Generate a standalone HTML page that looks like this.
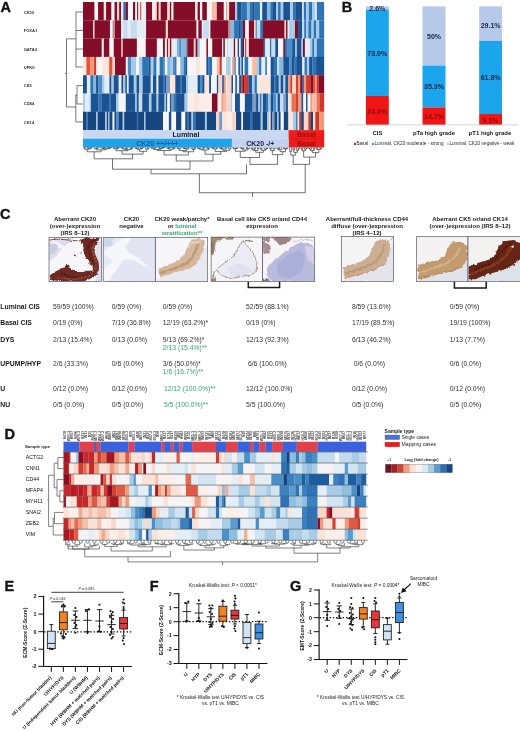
<!DOCTYPE html>
<html lang="en"><head><meta charset="utf-8"><title>Figure</title>
<style>
html,body{margin:0;padding:0;background:#fff;}
body{width:520px;height:731px;overflow:hidden;}
svg{display:block;font-family:"Liberation Sans",sans-serif;}
</style></head><body>
<svg width="520" height="731" viewBox="0 0 520 731">
<defs>
<filter id="b03" x="-2%" y="-2%" width="104%" height="104%"><feGaussianBlur stdDeviation="0.3"/></filter>
<filter id="b05" x="-2%" y="-2%" width="104%" height="104%"><feGaussianBlur stdDeviation="0.5 0.25"/></filter>
<filter id="b08" x="-5%" y="-5%" width="110%" height="110%"><feTurbulence type="fractalNoise" baseFrequency="0.3" numOctaves="2" seed="4" result="n"/><feDisplacementMap in="SourceGraphic" in2="n" scale="3" xChannelSelector="R" yChannelSelector="G" result="d"/><feGaussianBlur in="d" stdDeviation="0.5"/></filter>
</defs>
<rect width="520" height="731" fill="#fff"/>
<g filter="url(#b03)">
<g>
<rect x="83" y="2" width="11.69" height="18.4" fill="#840d2a"/>
<rect x="94.54" y="2" width="3.69" height="18.4" fill="#f7f5f6"/>
<rect x="98.08" y="2" width="5.84" height="18.4" fill="#840d2a"/>
<rect x="103.77" y="2" width="2.46" height="18.4" fill="#fce6dc"/>
<rect x="106.08" y="2" width="5.53" height="18.4" fill="#840d2a"/>
<rect x="111.46" y="2" width="3.23" height="18.4" fill="#f7f5f6"/>
<rect x="114.54" y="2" width="2.77" height="18.4" fill="#840d2a"/>
<rect x="117.15" y="2" width="2.15" height="18.4" fill="#fad6c8"/>
<rect x="119.15" y="2" width="2.15" height="18.4" fill="#840d2a"/>
<rect x="121.15" y="2" width="2.3" height="18.4" fill="#e2edf6"/>
<rect x="123.31" y="2" width="2.61" height="18.4" fill="#2f74b6"/>
<rect x="125.77" y="2" width="2.3" height="18.4" fill="#840d2a"/>
<rect x="127.92" y="2" width="5.23" height="18.4" fill="#f7f5f6"/>
<rect x="133" y="2" width="2.46" height="18.4" fill="#840d2a"/>
<rect x="135.31" y="2" width="2" height="18.4" fill="#f7f5f6"/>
<rect x="137.15" y="2" width="1.38" height="18.4" fill="#840d2a"/>
<rect x="138.38" y="2" width="2" height="18.4" fill="#f7f5f6"/>
<rect x="140.23" y="2" width="1.38" height="18.4" fill="#cf382c"/>
<rect x="141.46" y="2" width="2" height="18.4" fill="#f7f5f6"/>
<rect x="143.31" y="2" width="2.92" height="18.4" fill="#e2edf6"/>
<rect x="146.08" y="2" width="6.3" height="18.4" fill="#840d2a"/>
<rect x="152.23" y="2" width="2.46" height="18.4" fill="#f7f5f6"/>
<rect x="154.54" y="2" width="2.46" height="18.4" fill="#fad6c8"/>
<rect x="156.85" y="2" width="2" height="18.4" fill="#840d2a"/>
<rect x="158.69" y="2" width="2.15" height="18.4" fill="#fad6c8"/>
<rect x="160.69" y="2" width="2.46" height="18.4" fill="#840d2a"/>
<rect x="83" y="20.3" width="10.15" height="18.4" fill="#840d2a"/>
<rect x="93" y="20.3" width="1.69" height="18.4" fill="#fad6c8"/>
<rect x="94.54" y="20.3" width="15.53" height="18.4" fill="#840d2a"/>
<rect x="109.92" y="20.3" width="2.77" height="18.4" fill="#f7f5f6"/>
<rect x="112.54" y="20.3" width="2.61" height="18.4" fill="#c08a94"/>
<rect x="115" y="20.3" width="6.3" height="18.4" fill="#840d2a"/>
<rect x="121.15" y="20.3" width="2.3" height="18.4" fill="#e2edf6"/>
<rect x="123.31" y="20.3" width="4.46" height="18.4" fill="#c6ddef"/>
<rect x="127.62" y="20.3" width="3.23" height="18.4" fill="#e2edf6"/>
<rect x="130.69" y="20.3" width="6.3" height="18.4" fill="#c6ddef"/>
<rect x="136.85" y="20.3" width="9.38" height="18.4" fill="#e2edf6"/>
<rect x="146.08" y="20.3" width="17.07" height="18.4" fill="#840d2a"/>
<rect x="83" y="38.6" width="18.92" height="18.4" fill="#840d2a"/>
<rect x="101.77" y="38.6" width="2.15" height="18.4" fill="#f7f5f6"/>
<rect x="103.77" y="38.6" width="5.84" height="18.4" fill="#840d2a"/>
<rect x="109.46" y="38.6" width="4.46" height="18.4" fill="#f7f5f6"/>
<rect x="113.77" y="38.6" width="7.84" height="18.4" fill="#840d2a"/>
<rect x="121.46" y="38.6" width="1.38" height="18.4" fill="#fad6c8"/>
<rect x="122.69" y="38.6" width="14.3" height="18.4" fill="#840d2a"/>
<rect x="136.85" y="38.6" width="9.07" height="18.4" fill="#f7f5f6"/>
<rect x="145.77" y="38.6" width="11.23" height="18.4" fill="#840d2a"/>
<rect x="156.85" y="38.6" width="6.3" height="18.4" fill="#f7f5f6"/>
<rect x="83" y="56.9" width="3.53" height="18.4" fill="#fce6dc"/>
<rect x="86.38" y="56.9" width="4.15" height="18.4" fill="#e3523a"/>
<rect x="90.38" y="56.9" width="3.84" height="18.4" fill="#f09a7c"/>
<rect x="94.08" y="56.9" width="2.15" height="18.4" fill="#cf382c"/>
<rect x="96.08" y="56.9" width="2" height="18.4" fill="#fce6dc"/>
<rect x="97.92" y="56.9" width="4.46" height="18.4" fill="#f7f5f6"/>
<rect x="102.23" y="56.9" width="7.07" height="18.4" fill="#fce6dc"/>
<rect x="109.15" y="56.9" width="3.53" height="18.4" fill="#e3523a"/>
<rect x="112.54" y="56.9" width="2.61" height="18.4" fill="#fad6c8"/>
<rect x="115" y="56.9" width="10.92" height="18.4" fill="#840d2a"/>
<rect x="125.77" y="56.9" width="2.3" height="18.4" fill="#e2edf6"/>
<rect x="127.92" y="56.9" width="3.23" height="18.4" fill="#4a8ec8"/>
<rect x="131" y="56.9" width="2.92" height="18.4" fill="#a6cbe6"/>
<rect x="133.77" y="56.9" width="2.46" height="18.4" fill="#a6cbe6"/>
<rect x="136.08" y="56.9" width="3.23" height="18.4" fill="#f7f5f6"/>
<rect x="139.15" y="56.9" width="3.23" height="18.4" fill="#a6cbe6"/>
<rect x="142.23" y="56.9" width="6.3" height="18.4" fill="#2f74b6"/>
<rect x="148.38" y="56.9" width="2.46" height="18.4" fill="#1c5192"/>
<rect x="150.69" y="56.9" width="2.92" height="18.4" fill="#a6cbe6"/>
<rect x="153.46" y="56.9" width="3.23" height="18.4" fill="#2f74b6"/>
<rect x="156.54" y="56.9" width="3.23" height="18.4" fill="#e2edf6"/>
<rect x="159.62" y="56.9" width="3.53" height="18.4" fill="#2f74b6"/>
<rect x="83" y="75.2" width="4" height="18.4" fill="#1c5192"/>
<rect x="86.85" y="75.2" width="3.69" height="18.4" fill="#e2edf6"/>
<rect x="90.38" y="75.2" width="3.23" height="18.4" fill="#2f74b6"/>
<rect x="93.46" y="75.2" width="2.77" height="18.4" fill="#86b8de"/>
<rect x="96.08" y="75.2" width="2.46" height="18.4" fill="#1c5192"/>
<rect x="98.38" y="75.2" width="4" height="18.4" fill="#4a8ec8"/>
<rect x="102.23" y="75.2" width="2.46" height="18.4" fill="#a6cbe6"/>
<rect x="104.54" y="75.2" width="5.07" height="18.4" fill="#e2edf6"/>
<rect x="109.46" y="75.2" width="2.15" height="18.4" fill="#1c5192"/>
<rect x="111.46" y="75.2" width="2.46" height="18.4" fill="#a6cbe6"/>
<rect x="113.77" y="75.2" width="5.07" height="18.4" fill="#1c5192"/>
<rect x="118.69" y="75.2" width="2.92" height="18.4" fill="#e2edf6"/>
<rect x="121.46" y="75.2" width="2" height="18.4" fill="#1c5192"/>
<rect x="123.31" y="75.2" width="2.15" height="18.4" fill="#a6cbe6"/>
<rect x="125.31" y="75.2" width="1.69" height="18.4" fill="#1c5192"/>
<rect x="126.85" y="75.2" width="2" height="18.4" fill="#e2edf6"/>
<rect x="128.69" y="75.2" width="5.23" height="18.4" fill="#1c5192"/>
<rect x="133.77" y="75.2" width="2.92" height="18.4" fill="#a6cbe6"/>
<rect x="136.54" y="75.2" width="2.77" height="18.4" fill="#1c5192"/>
<rect x="139.15" y="75.2" width="3.69" height="18.4" fill="#a6cbe6"/>
<rect x="142.69" y="75.2" width="8.15" height="18.4" fill="#1c5192"/>
<rect x="150.69" y="75.2" width="2.46" height="18.4" fill="#c6ddef"/>
<rect x="153" y="75.2" width="3.69" height="18.4" fill="#1c5192"/>
<rect x="156.54" y="75.2" width="2" height="18.4" fill="#f7f5f6"/>
<rect x="158.38" y="75.2" width="4.77" height="18.4" fill="#1c5192"/>
<rect x="83" y="93.5" width="2" height="18.4" fill="#a6cbe6"/>
<rect x="84.85" y="93.5" width="4.77" height="18.4" fill="#e2edf6"/>
<rect x="89.46" y="93.5" width="1.69" height="18.4" fill="#a6cbe6"/>
<rect x="91" y="93.5" width="7.53" height="18.4" fill="#1c5192"/>
<rect x="98.38" y="93.5" width="3.23" height="18.4" fill="#2f74b6"/>
<rect x="101.46" y="93.5" width="7.53" height="18.4" fill="#1c5192"/>
<rect x="108.85" y="93.5" width="1.69" height="18.4" fill="#2f74b6"/>
<rect x="110.38" y="93.5" width="5.84" height="18.4" fill="#1c5192"/>
<rect x="116.08" y="93.5" width="2.77" height="18.4" fill="#a6cbe6"/>
<rect x="118.69" y="93.5" width="7.23" height="18.4" fill="#f7f5f6"/>
<rect x="125.77" y="93.5" width="9.69" height="18.4" fill="#1c5192"/>
<rect x="135.31" y="93.5" width="1.69" height="18.4" fill="#a6cbe6"/>
<rect x="136.85" y="93.5" width="2" height="18.4" fill="#1c5192"/>
<rect x="138.69" y="93.5" width="3.69" height="18.4" fill="#c6ddef"/>
<rect x="142.23" y="93.5" width="6.77" height="18.4" fill="#1c5192"/>
<rect x="148.85" y="93.5" width="2.77" height="18.4" fill="#a6cbe6"/>
<rect x="151.46" y="93.5" width="5.23" height="18.4" fill="#1c5192"/>
<rect x="156.54" y="93.5" width="2" height="18.4" fill="#a6cbe6"/>
<rect x="158.38" y="93.5" width="4.77" height="18.4" fill="#1c5192"/>
<rect x="83" y="111.8" width="3.23" height="18.4" fill="#17447f"/>
<rect x="86.08" y="111.8" width="1.69" height="18.4" fill="#2f74b6"/>
<rect x="87.62" y="111.8" width="8.61" height="18.4" fill="#17447f"/>
<rect x="96.08" y="111.8" width="1.69" height="18.4" fill="#a6cbe6"/>
<rect x="97.62" y="111.8" width="7.84" height="18.4" fill="#17447f"/>
<rect x="105.31" y="111.8" width="1.69" height="18.4" fill="#a6cbe6"/>
<rect x="106.85" y="111.8" width="1.69" height="18.4" fill="#17447f"/>
<rect x="108.38" y="111.8" width="1.23" height="18.4" fill="#a6cbe6"/>
<rect x="109.46" y="111.8" width="3.23" height="18.4" fill="#17447f"/>
<rect x="112.54" y="111.8" width="2.15" height="18.4" fill="#e2edf6"/>
<rect x="114.54" y="111.8" width="1.69" height="18.4" fill="#17447f"/>
<rect x="116.08" y="111.8" width="2.77" height="18.4" fill="#4a8ec8"/>
<rect x="118.69" y="111.8" width="4.15" height="18.4" fill="#17447f"/>
<rect x="122.69" y="111.8" width="1.69" height="18.4" fill="#a6cbe6"/>
<rect x="124.23" y="111.8" width="12.77" height="18.4" fill="#17447f"/>
<rect x="136.85" y="111.8" width="1.38" height="18.4" fill="#2f74b6"/>
<rect x="138.08" y="111.8" width="6.3" height="18.4" fill="#17447f"/>
<rect x="144.23" y="111.8" width="1.38" height="18.4" fill="#a6cbe6"/>
<rect x="145.46" y="111.8" width="17.69" height="18.4" fill="#17447f"/>
<rect x="163" y="2" width="4.46" height="18.4" fill="#840d2a"/>
<rect x="167.31" y="2" width="2.77" height="18.4" fill="#fad6c8"/>
<rect x="169.92" y="2" width="1.69" height="18.4" fill="#840d2a"/>
<rect x="171.46" y="2" width="2.15" height="18.4" fill="#f7f5f6"/>
<rect x="173.46" y="2" width="21.69" height="18.4" fill="#840d2a"/>
<rect x="195" y="2" width="2.77" height="18.4" fill="#fce6dc"/>
<rect x="197.62" y="2" width="2.46" height="18.4" fill="#840d2a"/>
<rect x="199.92" y="2" width="2.46" height="18.4" fill="#f7f5f6"/>
<rect x="202.23" y="2" width="4.77" height="18.4" fill="#840d2a"/>
<rect x="206.85" y="2" width="5.23" height="18.4" fill="#f7f5f6"/>
<rect x="211.92" y="2" width="5.07" height="18.4" fill="#f6bca6"/>
<rect x="216.85" y="2" width="7.07" height="18.4" fill="#840d2a"/>
<rect x="223.77" y="2" width="2.46" height="18.4" fill="#f7f5f6"/>
<rect x="226.08" y="2" width="1.38" height="18.4" fill="#f09a7c"/>
<rect x="227.31" y="2" width="2" height="18.4" fill="#fce6dc"/>
<rect x="229.15" y="2" width="6" height="18.4" fill="#840d2a"/>
<rect x="235" y="2" width="2.3" height="18.4" fill="#a6cbe6"/>
<rect x="237.15" y="2" width="4.46" height="18.4" fill="#1c5192"/>
<rect x="241.46" y="2" width="1.69" height="18.4" fill="#2f74b6"/>
<rect x="163" y="20.3" width="2.92" height="18.4" fill="#840d2a"/>
<rect x="165.77" y="20.3" width="2.3" height="18.4" fill="#fad6c8"/>
<rect x="167.92" y="20.3" width="28.77" height="18.4" fill="#840d2a"/>
<rect x="196.54" y="20.3" width="2" height="18.4" fill="#f7f5f6"/>
<rect x="198.38" y="20.3" width="3.53" height="18.4" fill="#840d2a"/>
<rect x="201.77" y="20.3" width="1.69" height="18.4" fill="#e2edf6"/>
<rect x="203.31" y="20.3" width="6" height="18.4" fill="#c6ddef"/>
<rect x="209.15" y="20.3" width="1.38" height="18.4" fill="#f7f5f6"/>
<rect x="210.38" y="20.3" width="18.15" height="18.4" fill="#840d2a"/>
<rect x="228.38" y="20.3" width="2.46" height="18.4" fill="#c08a94"/>
<rect x="230.69" y="20.3" width="3.53" height="18.4" fill="#86b8de"/>
<rect x="234.08" y="20.3" width="4.46" height="18.4" fill="#2f74b6"/>
<rect x="238.38" y="20.3" width="2.46" height="18.4" fill="#1c5192"/>
<rect x="240.69" y="20.3" width="2.46" height="18.4" fill="#2f74b6"/>
<rect x="163" y="38.6" width="2" height="18.4" fill="#840d2a"/>
<rect x="164.85" y="38.6" width="2.15" height="18.4" fill="#f7f5f6"/>
<rect x="166.85" y="38.6" width="1.23" height="18.4" fill="#840d2a"/>
<rect x="167.92" y="38.6" width="2.15" height="18.4" fill="#fad6c8"/>
<rect x="169.92" y="38.6" width="1.69" height="18.4" fill="#840d2a"/>
<rect x="171.46" y="38.6" width="5.53" height="18.4" fill="#e2edf6"/>
<rect x="176.85" y="38.6" width="2.46" height="18.4" fill="#86b8de"/>
<rect x="179.15" y="38.6" width="2.46" height="18.4" fill="#4a8ec8"/>
<rect x="181.46" y="38.6" width="4.46" height="18.4" fill="#86b8de"/>
<rect x="185.77" y="38.6" width="1.69" height="18.4" fill="#7a9cc4"/>
<rect x="187.31" y="38.6" width="6.61" height="18.4" fill="#840d2a"/>
<rect x="193.77" y="38.6" width="2" height="18.4" fill="#fad6c8"/>
<rect x="195.62" y="38.6" width="2.15" height="18.4" fill="#840d2a"/>
<rect x="197.62" y="38.6" width="2.46" height="18.4" fill="#a6cbe6"/>
<rect x="199.92" y="38.6" width="6.61" height="18.4" fill="#f7f5f6"/>
<rect x="206.38" y="38.6" width="1.69" height="18.4" fill="#840d2a"/>
<rect x="207.92" y="38.6" width="4.46" height="18.4" fill="#f7f5f6"/>
<rect x="212.23" y="38.6" width="10.15" height="18.4" fill="#840d2a"/>
<rect x="222.23" y="38.6" width="1.23" height="18.4" fill="#f7f5f6"/>
<rect x="223.31" y="38.6" width="1.69" height="18.4" fill="#840d2a"/>
<rect x="224.85" y="38.6" width="2.15" height="18.4" fill="#f7f5f6"/>
<rect x="226.85" y="38.6" width="1.69" height="18.4" fill="#c6ddef"/>
<rect x="228.38" y="38.6" width="5.53" height="18.4" fill="#e2edf6"/>
<rect x="233.77" y="38.6" width="1.69" height="18.4" fill="#840d2a"/>
<rect x="235.31" y="38.6" width="2.46" height="18.4" fill="#f7f5f6"/>
<rect x="237.62" y="38.6" width="1.69" height="18.4" fill="#1c5192"/>
<rect x="239.15" y="38.6" width="1.69" height="18.4" fill="#f7f5f6"/>
<rect x="240.69" y="38.6" width="2.46" height="18.4" fill="#1c5192"/>
<rect x="163" y="56.9" width="2" height="18.4" fill="#4a8ec8"/>
<rect x="164.85" y="56.9" width="2.61" height="18.4" fill="#f7f5f6"/>
<rect x="167.31" y="56.9" width="3.53" height="18.4" fill="#86b8de"/>
<rect x="170.69" y="56.9" width="2.46" height="18.4" fill="#a6cbe6"/>
<rect x="173" y="56.9" width="2.46" height="18.4" fill="#4a8ec8"/>
<rect x="175.31" y="56.9" width="1.38" height="18.4" fill="#1c5192"/>
<rect x="176.54" y="56.9" width="3.84" height="18.4" fill="#f7f5f6"/>
<rect x="180.23" y="56.9" width="3.69" height="18.4" fill="#86b8de"/>
<rect x="183.77" y="56.9" width="2.15" height="18.4" fill="#2f74b6"/>
<rect x="185.77" y="56.9" width="1.69" height="18.4" fill="#1c5192"/>
<rect x="187.31" y="56.9" width="8.92" height="18.4" fill="#f7f5f6"/>
<rect x="196.08" y="56.9" width="4" height="18.4" fill="#fce6dc"/>
<rect x="199.92" y="56.9" width="6.61" height="18.4" fill="#f7f5f6"/>
<rect x="206.38" y="56.9" width="2.15" height="18.4" fill="#1c5192"/>
<rect x="208.38" y="56.9" width="4" height="18.4" fill="#2f74b6"/>
<rect x="212.23" y="56.9" width="4.77" height="18.4" fill="#f7f5f6"/>
<rect x="216.85" y="56.9" width="2.92" height="18.4" fill="#f6bca6"/>
<rect x="219.62" y="56.9" width="2.3" height="18.4" fill="#cf382c"/>
<rect x="221.77" y="56.9" width="4.46" height="18.4" fill="#f7f5f6"/>
<rect x="226.08" y="56.9" width="1.69" height="18.4" fill="#a6cbe6"/>
<rect x="227.62" y="56.9" width="3.23" height="18.4" fill="#a6cbe6"/>
<rect x="230.69" y="56.9" width="1.69" height="18.4" fill="#f7f5f6"/>
<rect x="232.23" y="56.9" width="2" height="18.4" fill="#f09a7c"/>
<rect x="234.08" y="56.9" width="2.15" height="18.4" fill="#7a9cc4"/>
<rect x="236.08" y="56.9" width="2.46" height="18.4" fill="#f7f5f6"/>
<rect x="238.38" y="56.9" width="1.69" height="18.4" fill="#1c5192"/>
<rect x="239.92" y="56.9" width="1.69" height="18.4" fill="#a6cbe6"/>
<rect x="241.46" y="56.9" width="1.69" height="18.4" fill="#1c5192"/>
<rect x="163" y="75.2" width="1.69" height="18.4" fill="#2f74b6"/>
<rect x="164.54" y="75.2" width="1.69" height="18.4" fill="#1c5192"/>
<rect x="166.08" y="75.2" width="4" height="18.4" fill="#7a9cc4"/>
<rect x="169.92" y="75.2" width="5.53" height="18.4" fill="#fce6dc"/>
<rect x="175.31" y="75.2" width="4.77" height="18.4" fill="#1c5192"/>
<rect x="179.92" y="75.2" width="1.69" height="18.4" fill="#2f74b6"/>
<rect x="181.46" y="75.2" width="4.77" height="18.4" fill="#1c5192"/>
<rect x="186.08" y="75.2" width="2.46" height="18.4" fill="#a6cbe6"/>
<rect x="188.38" y="75.2" width="9.38" height="18.4" fill="#e2edf6"/>
<rect x="197.62" y="75.2" width="2.46" height="18.4" fill="#1c5192"/>
<rect x="199.92" y="75.2" width="2.46" height="18.4" fill="#4a8ec8"/>
<rect x="202.23" y="75.2" width="2.46" height="18.4" fill="#1c5192"/>
<rect x="204.54" y="75.2" width="4.77" height="18.4" fill="#fce6dc"/>
<rect x="209.15" y="75.2" width="2" height="18.4" fill="#1c5192"/>
<rect x="211" y="75.2" width="6" height="18.4" fill="#f7f5f6"/>
<rect x="216.85" y="75.2" width="1.69" height="18.4" fill="#1c5192"/>
<rect x="218.38" y="75.2" width="4" height="18.4" fill="#fad6c8"/>
<rect x="222.23" y="75.2" width="1.69" height="18.4" fill="#1c5192"/>
<rect x="223.77" y="75.2" width="2.15" height="18.4" fill="#f09a7c"/>
<rect x="225.77" y="75.2" width="1.23" height="18.4" fill="#f7f5f6"/>
<rect x="226.85" y="75.2" width="4.77" height="18.4" fill="#fad6c8"/>
<rect x="231.46" y="75.2" width="1.69" height="18.4" fill="#1c5192"/>
<rect x="233" y="75.2" width="2.46" height="18.4" fill="#f7f5f6"/>
<rect x="235.31" y="75.2" width="1.69" height="18.4" fill="#1c5192"/>
<rect x="236.85" y="75.2" width="2.46" height="18.4" fill="#e2edf6"/>
<rect x="239.15" y="75.2" width="2.46" height="18.4" fill="#1c5192"/>
<rect x="241.46" y="75.2" width="1.69" height="18.4" fill="#cf382c"/>
<rect x="163" y="93.5" width="1.69" height="18.4" fill="#1c5192"/>
<rect x="164.54" y="93.5" width="1.69" height="18.4" fill="#a6cbe6"/>
<rect x="166.08" y="93.5" width="1.38" height="18.4" fill="#1c5192"/>
<rect x="167.31" y="93.5" width="2.77" height="18.4" fill="#f7f5f6"/>
<rect x="169.92" y="93.5" width="1.69" height="18.4" fill="#1c5192"/>
<rect x="171.46" y="93.5" width="2.46" height="18.4" fill="#7a9cc4"/>
<rect x="173.77" y="93.5" width="2.46" height="18.4" fill="#2f74b6"/>
<rect x="176.08" y="93.5" width="8.61" height="18.4" fill="#1c5192"/>
<rect x="184.54" y="93.5" width="3.23" height="18.4" fill="#a6cbe6"/>
<rect x="187.62" y="93.5" width="6.3" height="18.4" fill="#fbeee8"/>
<rect x="193.77" y="93.5" width="5.53" height="18.4" fill="#fce6dc"/>
<rect x="199.15" y="93.5" width="12.92" height="18.4" fill="#fbeee8"/>
<rect x="211.92" y="93.5" width="5.84" height="18.4" fill="#840d2a"/>
<rect x="217.62" y="93.5" width="4" height="18.4" fill="#fbeee8"/>
<rect x="221.46" y="93.5" width="1.69" height="18.4" fill="#f09a7c"/>
<rect x="223" y="93.5" width="3.53" height="18.4" fill="#f6bca6"/>
<rect x="226.38" y="93.5" width="4.46" height="18.4" fill="#fad6c8"/>
<rect x="230.69" y="93.5" width="1.69" height="18.4" fill="#a6cbe6"/>
<rect x="232.23" y="93.5" width="2.92" height="18.4" fill="#f7f5f6"/>
<rect x="235" y="93.5" width="5.07" height="18.4" fill="#1c5192"/>
<rect x="239.92" y="93.5" width="3.23" height="18.4" fill="#f7f5f6"/>
<rect x="163" y="111.8" width="6" height="18.4" fill="#f7f5f6"/>
<rect x="168.85" y="111.8" width="2.77" height="18.4" fill="#1c5192"/>
<rect x="171.46" y="111.8" width="4.77" height="18.4" fill="#f7f5f6"/>
<rect x="176.08" y="111.8" width="5.53" height="18.4" fill="#17447f"/>
<rect x="181.46" y="111.8" width="4" height="18.4" fill="#f7f5f6"/>
<rect x="185.31" y="111.8" width="1.69" height="18.4" fill="#17447f"/>
<rect x="186.85" y="111.8" width="1.69" height="18.4" fill="#2f74b6"/>
<rect x="188.38" y="111.8" width="3.23" height="18.4" fill="#17447f"/>
<rect x="191.46" y="111.8" width="1.69" height="18.4" fill="#a6cbe6"/>
<rect x="193" y="111.8" width="2.46" height="18.4" fill="#2f74b6"/>
<rect x="195.31" y="111.8" width="9.69" height="18.4" fill="#17447f"/>
<rect x="204.85" y="111.8" width="2.15" height="18.4" fill="#a6cbe6"/>
<rect x="206.85" y="111.8" width="9.38" height="18.4" fill="#17447f"/>
<rect x="216.08" y="111.8" width="3.23" height="18.4" fill="#fad6c8"/>
<rect x="219.15" y="111.8" width="3.23" height="18.4" fill="#7a9cc4"/>
<rect x="222.23" y="111.8" width="4.77" height="18.4" fill="#fce6dc"/>
<rect x="226.85" y="111.8" width="5.53" height="18.4" fill="#fbeee8"/>
<rect x="232.23" y="111.8" width="4" height="18.4" fill="#fad6c8"/>
<rect x="236.08" y="111.8" width="5.53" height="18.4" fill="#17447f"/>
<rect x="241.46" y="111.8" width="1.69" height="18.4" fill="#f7f5f6"/>
<rect x="243" y="2" width="4" height="18.4" fill="#2f74b6"/>
<rect x="246.85" y="2" width="3.23" height="18.4" fill="#86b8de"/>
<rect x="249.92" y="2" width="2.46" height="18.4" fill="#2f74b6"/>
<rect x="252.23" y="2" width="2.46" height="18.4" fill="#1c5192"/>
<rect x="254.54" y="2" width="5.53" height="18.4" fill="#2f74b6"/>
<rect x="259.92" y="2" width="2.46" height="18.4" fill="#e2edf6"/>
<rect x="262.23" y="2" width="4.77" height="18.4" fill="#1c5192"/>
<rect x="266.85" y="2" width="3.69" height="18.4" fill="#86b8de"/>
<rect x="270.38" y="2" width="2.77" height="18.4" fill="#2f74b6"/>
<rect x="273" y="2" width="3.23" height="18.4" fill="#1c5192"/>
<rect x="276.08" y="2" width="2.15" height="18.4" fill="#a6cbe6"/>
<rect x="278.08" y="2" width="2.77" height="18.4" fill="#2f74b6"/>
<rect x="280.69" y="2" width="2.77" height="18.4" fill="#a6cbe6"/>
<rect x="283.31" y="2" width="6.77" height="18.4" fill="#1c5192"/>
<rect x="289.92" y="2" width="3.23" height="18.4" fill="#a6cbe6"/>
<rect x="293" y="2" width="2.46" height="18.4" fill="#2f74b6"/>
<rect x="295.31" y="2" width="7.07" height="18.4" fill="#1c5192"/>
<rect x="302.23" y="2" width="1.69" height="18.4" fill="#e2edf6"/>
<rect x="303.77" y="2" width="2.46" height="18.4" fill="#2f74b6"/>
<rect x="306.08" y="2" width="2.92" height="18.4" fill="#a6cbe6"/>
<rect x="308.85" y="2" width="3.53" height="18.4" fill="#2f74b6"/>
<rect x="312.23" y="2" width="3.23" height="18.4" fill="#a6cbe6"/>
<rect x="315.31" y="2" width="1.69" height="18.4" fill="#e2edf6"/>
<rect x="316.85" y="2" width="7.3" height="18.4" fill="#2f74b6"/>
<rect x="243" y="20.3" width="2.46" height="18.4" fill="#840d2a"/>
<rect x="245.31" y="20.3" width="3.69" height="18.4" fill="#f7f5f6"/>
<rect x="248.85" y="20.3" width="5.38" height="18.4" fill="#840d2a"/>
<rect x="254.08" y="20.3" width="1.69" height="18.4" fill="#fad6c8"/>
<rect x="255.62" y="20.3" width="1.38" height="18.4" fill="#4a8ec8"/>
<rect x="256.85" y="20.3" width="3.53" height="18.4" fill="#c6ddef"/>
<rect x="260.23" y="20.3" width="2.92" height="18.4" fill="#2f74b6"/>
<rect x="263" y="20.3" width="21.69" height="18.4" fill="#840d2a"/>
<rect x="284.54" y="20.3" width="1.69" height="18.4" fill="#fad6c8"/>
<rect x="286.08" y="20.3" width="1.69" height="18.4" fill="#840d2a"/>
<rect x="287.62" y="20.3" width="1.69" height="18.4" fill="#e2edf6"/>
<rect x="289.15" y="20.3" width="3.23" height="18.4" fill="#a6cbe6"/>
<rect x="292.23" y="20.3" width="2.92" height="18.4" fill="#a6cbe6"/>
<rect x="295" y="20.3" width="3.23" height="18.4" fill="#840d2a"/>
<rect x="298.08" y="20.3" width="4.3" height="18.4" fill="#1c5192"/>
<rect x="302.23" y="20.3" width="2.15" height="18.4" fill="#c6ddef"/>
<rect x="304.23" y="20.3" width="2" height="18.4" fill="#2f74b6"/>
<rect x="306.08" y="20.3" width="2.46" height="18.4" fill="#a6cbe6"/>
<rect x="308.38" y="20.3" width="3.23" height="18.4" fill="#2f74b6"/>
<rect x="311.46" y="20.3" width="2.46" height="18.4" fill="#a6cbe6"/>
<rect x="313.77" y="20.3" width="2.46" height="18.4" fill="#2f74b6"/>
<rect x="316.08" y="20.3" width="3.23" height="18.4" fill="#a6cbe6"/>
<rect x="319.15" y="20.3" width="5" height="18.4" fill="#2f74b6"/>
<rect x="243" y="38.6" width="1.38" height="18.4" fill="#840d2a"/>
<rect x="244.23" y="38.6" width="1.23" height="18.4" fill="#fce6dc"/>
<rect x="245.31" y="38.6" width="1.23" height="18.4" fill="#840d2a"/>
<rect x="246.38" y="38.6" width="2.61" height="18.4" fill="#fce6dc"/>
<rect x="248.85" y="38.6" width="15.07" height="18.4" fill="#840d2a"/>
<rect x="263.77" y="38.6" width="1.69" height="18.4" fill="#2f74b6"/>
<rect x="265.31" y="38.6" width="4.77" height="18.4" fill="#e2edf6"/>
<rect x="269.92" y="38.6" width="1.69" height="18.4" fill="#2f74b6"/>
<rect x="271.46" y="38.6" width="4" height="18.4" fill="#c6ddef"/>
<rect x="275.31" y="38.6" width="2.92" height="18.4" fill="#1c5192"/>
<rect x="278.08" y="38.6" width="5.38" height="18.4" fill="#f7f5f6"/>
<rect x="283.31" y="38.6" width="1.69" height="18.4" fill="#840d2a"/>
<rect x="284.85" y="38.6" width="2.92" height="18.4" fill="#2f74b6"/>
<rect x="287.62" y="38.6" width="4.77" height="18.4" fill="#4a8ec8"/>
<rect x="292.23" y="38.6" width="3.23" height="18.4" fill="#1c5192"/>
<rect x="295.31" y="38.6" width="1.69" height="18.4" fill="#a6cbe6"/>
<rect x="296.85" y="38.6" width="4.77" height="18.4" fill="#1c5192"/>
<rect x="301.46" y="38.6" width="1.69" height="18.4" fill="#a6cbe6"/>
<rect x="303" y="38.6" width="2" height="18.4" fill="#840d2a"/>
<rect x="304.85" y="38.6" width="5.23" height="18.4" fill="#e2edf6"/>
<rect x="309.92" y="38.6" width="2.46" height="18.4" fill="#a6cbe6"/>
<rect x="312.23" y="38.6" width="2" height="18.4" fill="#2f74b6"/>
<rect x="314.08" y="38.6" width="2.92" height="18.4" fill="#a6cbe6"/>
<rect x="316.85" y="38.6" width="7.3" height="18.4" fill="#2f74b6"/>
<rect x="243" y="56.9" width="1.69" height="18.4" fill="#f7f5f6"/>
<rect x="244.54" y="56.9" width="4" height="18.4" fill="#2f74b6"/>
<rect x="248.38" y="56.9" width="4" height="18.4" fill="#f7f5f6"/>
<rect x="252.23" y="56.9" width="4.77" height="18.4" fill="#f6bca6"/>
<rect x="256.85" y="56.9" width="2.46" height="18.4" fill="#a6cbe6"/>
<rect x="259.15" y="56.9" width="2.46" height="18.4" fill="#2f74b6"/>
<rect x="261.46" y="56.9" width="4" height="18.4" fill="#e2edf6"/>
<rect x="265.31" y="56.9" width="1.69" height="18.4" fill="#2f74b6"/>
<rect x="266.85" y="56.9" width="4" height="18.4" fill="#f7f5f6"/>
<rect x="270.69" y="56.9" width="3.23" height="18.4" fill="#1c5192"/>
<rect x="273.77" y="56.9" width="3.53" height="18.4" fill="#2f74b6"/>
<rect x="277.15" y="56.9" width="2.15" height="18.4" fill="#c6ddef"/>
<rect x="279.15" y="56.9" width="4.3" height="18.4" fill="#86b8de"/>
<rect x="283.31" y="56.9" width="6" height="18.4" fill="#1c5192"/>
<rect x="289.15" y="56.9" width="2.92" height="18.4" fill="#4a8ec8"/>
<rect x="291.92" y="56.9" width="2.77" height="18.4" fill="#1c5192"/>
<rect x="294.54" y="56.9" width="2.46" height="18.4" fill="#2f74b6"/>
<rect x="296.85" y="56.9" width="5.53" height="18.4" fill="#1c5192"/>
<rect x="302.23" y="56.9" width="2.46" height="18.4" fill="#e2edf6"/>
<rect x="304.54" y="56.9" width="2.46" height="18.4" fill="#2f74b6"/>
<rect x="306.85" y="56.9" width="2.46" height="18.4" fill="#a6cbe6"/>
<rect x="309.15" y="56.9" width="3.23" height="18.4" fill="#1c5192"/>
<rect x="312.23" y="56.9" width="4" height="18.4" fill="#2f74b6"/>
<rect x="316.08" y="56.9" width="8.07" height="18.4" fill="#1c5192"/>
<rect x="243" y="75.2" width="1.69" height="18.4" fill="#840d2a"/>
<rect x="244.54" y="75.2" width="4" height="18.4" fill="#cf382c"/>
<rect x="248.38" y="75.2" width="3.69" height="18.4" fill="#1c5192"/>
<rect x="251.92" y="75.2" width="2.77" height="18.4" fill="#a6cbe6"/>
<rect x="254.54" y="75.2" width="2.46" height="18.4" fill="#2f74b6"/>
<rect x="256.85" y="75.2" width="2.46" height="18.4" fill="#e2edf6"/>
<rect x="259.15" y="75.2" width="11.69" height="18.4" fill="#fce6dc"/>
<rect x="270.69" y="75.2" width="4" height="18.4" fill="#1c5192"/>
<rect x="274.54" y="75.2" width="1.69" height="18.4" fill="#2f74b6"/>
<rect x="276.08" y="75.2" width="2.77" height="18.4" fill="#1c5192"/>
<rect x="278.69" y="75.2" width="2.15" height="18.4" fill="#a6cbe6"/>
<rect x="280.69" y="75.2" width="2.77" height="18.4" fill="#1c5192"/>
<rect x="283.31" y="75.2" width="2.15" height="18.4" fill="#a6cbe6"/>
<rect x="285.31" y="75.2" width="2.77" height="18.4" fill="#1c5192"/>
<rect x="287.92" y="75.2" width="2.61" height="18.4" fill="#f09a7c"/>
<rect x="290.38" y="75.2" width="2" height="18.4" fill="#cf382c"/>
<rect x="292.23" y="75.2" width="4" height="18.4" fill="#fad6c8"/>
<rect x="296.08" y="75.2" width="2.15" height="18.4" fill="#cf382c"/>
<rect x="298.08" y="75.2" width="2.3" height="18.4" fill="#f09a7c"/>
<rect x="300.23" y="75.2" width="2.15" height="18.4" fill="#840d2a"/>
<rect x="302.23" y="75.2" width="1.69" height="18.4" fill="#1c5192"/>
<rect x="303.77" y="75.2" width="2.46" height="18.4" fill="#f09a7c"/>
<rect x="306.08" y="75.2" width="4.77" height="18.4" fill="#cf382c"/>
<rect x="310.69" y="75.2" width="2.46" height="18.4" fill="#840d2a"/>
<rect x="313" y="75.2" width="2.46" height="18.4" fill="#e3523a"/>
<rect x="315.31" y="75.2" width="1.69" height="18.4" fill="#f09a7c"/>
<rect x="316.85" y="75.2" width="2" height="18.4" fill="#cf382c"/>
<rect x="318.69" y="75.2" width="5.46" height="18.4" fill="#840d2a"/>
<rect x="243" y="93.5" width="2" height="18.4" fill="#f7f5f6"/>
<rect x="244.85" y="93.5" width="7.84" height="18.4" fill="#1c5192"/>
<rect x="252.54" y="93.5" width="3.69" height="18.4" fill="#7a9cc4"/>
<rect x="256.08" y="93.5" width="2.46" height="18.4" fill="#1c5192"/>
<rect x="258.38" y="93.5" width="2" height="18.4" fill="#a6cbe6"/>
<rect x="260.23" y="93.5" width="1.38" height="18.4" fill="#1c5192"/>
<rect x="261.46" y="93.5" width="1.69" height="18.4" fill="#a6cbe6"/>
<rect x="263" y="93.5" width="3.23" height="18.4" fill="#1c5192"/>
<rect x="266.08" y="93.5" width="2.46" height="18.4" fill="#2f74b6"/>
<rect x="268.38" y="93.5" width="2.46" height="18.4" fill="#a6cbe6"/>
<rect x="270.69" y="93.5" width="2.46" height="18.4" fill="#1c5192"/>
<rect x="273" y="93.5" width="3.23" height="18.4" fill="#4a8ec8"/>
<rect x="276.08" y="93.5" width="1.69" height="18.4" fill="#a6cbe6"/>
<rect x="277.62" y="93.5" width="2.46" height="18.4" fill="#1c5192"/>
<rect x="279.92" y="93.5" width="3.53" height="18.4" fill="#c6ddef"/>
<rect x="283.31" y="93.5" width="2.92" height="18.4" fill="#7a9cc4"/>
<rect x="286.08" y="93.5" width="2" height="18.4" fill="#1c5192"/>
<rect x="287.92" y="93.5" width="3.69" height="18.4" fill="#fce6dc"/>
<rect x="291.46" y="93.5" width="4.77" height="18.4" fill="#ea7258"/>
<rect x="296.08" y="93.5" width="2.15" height="18.4" fill="#cf382c"/>
<rect x="298.08" y="93.5" width="3.53" height="18.4" fill="#f09a7c"/>
<rect x="301.46" y="93.5" width="2" height="18.4" fill="#1c5192"/>
<rect x="303.31" y="93.5" width="2.92" height="18.4" fill="#f7f5f6"/>
<rect x="306.08" y="93.5" width="1.69" height="18.4" fill="#1c5192"/>
<rect x="307.62" y="93.5" width="2.92" height="18.4" fill="#f7f5f6"/>
<rect x="310.38" y="93.5" width="2" height="18.4" fill="#f09a7c"/>
<rect x="312.23" y="93.5" width="4.77" height="18.4" fill="#f6bca6"/>
<rect x="316.85" y="93.5" width="3.23" height="18.4" fill="#ea7258"/>
<rect x="319.92" y="93.5" width="4.23" height="18.4" fill="#cf382c"/>
<rect x="243" y="111.8" width="7.07" height="18.4" fill="#17447f"/>
<rect x="249.92" y="111.8" width="2.46" height="18.4" fill="#2f74b6"/>
<rect x="252.23" y="111.8" width="8.61" height="18.4" fill="#17447f"/>
<rect x="260.69" y="111.8" width="2.15" height="18.4" fill="#a6cbe6"/>
<rect x="262.69" y="111.8" width="4.77" height="18.4" fill="#17447f"/>
<rect x="267.31" y="111.8" width="1.69" height="18.4" fill="#a6cbe6"/>
<rect x="268.85" y="111.8" width="2" height="18.4" fill="#fad6c8"/>
<rect x="270.69" y="111.8" width="1.69" height="18.4" fill="#17447f"/>
<rect x="272.23" y="111.8" width="2.46" height="18.4" fill="#7a9cc4"/>
<rect x="274.54" y="111.8" width="2.77" height="18.4" fill="#17447f"/>
<rect x="277.15" y="111.8" width="1.69" height="18.4" fill="#a6cbe6"/>
<rect x="278.69" y="111.8" width="2.15" height="18.4" fill="#17447f"/>
<rect x="280.69" y="111.8" width="3.23" height="18.4" fill="#f7f5f6"/>
<rect x="283.77" y="111.8" width="4.77" height="18.4" fill="#17447f"/>
<rect x="288.38" y="111.8" width="4.77" height="18.4" fill="#fce6dc"/>
<rect x="293" y="111.8" width="3.23" height="18.4" fill="#a6cbe6"/>
<rect x="296.08" y="111.8" width="1.69" height="18.4" fill="#2f74b6"/>
<rect x="297.62" y="111.8" width="1.69" height="18.4" fill="#fce6dc"/>
<rect x="299.15" y="111.8" width="2.15" height="18.4" fill="#cf382c"/>
<rect x="301.15" y="111.8" width="2.77" height="18.4" fill="#17447f"/>
<rect x="303.77" y="111.8" width="4.77" height="18.4" fill="#fad6c8"/>
<rect x="308.38" y="111.8" width="2.46" height="18.4" fill="#cf382c"/>
<rect x="310.69" y="111.8" width="2.46" height="18.4" fill="#17447f"/>
<rect x="313" y="111.8" width="2.46" height="18.4" fill="#fad6c8"/>
<rect x="315.31" y="111.8" width="4" height="18.4" fill="#cf382c"/>
<rect x="319.15" y="111.8" width="5" height="18.4" fill="#f09a7c"/>
</g>
</g>
<g font-size="4.1" font-weight="bold" fill="#333">
<text x="23.7" y="14.1">CK20</text>
<text x="23.7" y="32">FOXA1</text>
<text x="23.7" y="50.5">GATA3</text>
<text x="23.7" y="68.5">UPKII</text>
<text x="23.7" y="87.1">CK5</text>
<text x="23.7" y="105.4">CD44</text>
<text x="23.7" y="123.5">CK14</text>
</g>
<text x="0.6" y="12.3" font-size="14.5" fill="#111" font-weight="bold" stroke="#111" stroke-width="0.35">A</text>
<path d="M76 12H83M76 30.5H83M76 49H83M76 67H83M76 12V67M66.5 38.8H76M77 85.6H83M77 104H83M77 85.6V104M75.8 95H77M75.8 122H83M75.8 95V122M66.5 107H75.8M66.5 38.8V107M65 73.5H66.5" stroke="#333" stroke-width="0.65" fill="none"/>
<rect x="83" y="130.1" width="205.8" height="8.7" fill="#c9d7f0"/>
<rect x="288.6" y="130.1" width="35.6" height="17.3" fill="#ee1c1c"/>
<rect x="83" y="138.7" width="149" height="8.7" fill="#1ea4ea"/>
<rect x="231.8" y="138.7" width="57" height="8.7" fill="#c3d2ee"/>
<path d="M288.6 138.7H324.2" stroke="#c01010" stroke-width="0.4"/>
<text x="186" y="136.9" font-size="7.0" fill="#161a2c" font-weight="bold" text-anchor="middle" >Luminal</text>
<text x="157.3" y="145.6" font-size="7.0" fill="#155c9e" font-weight="bold" text-anchor="middle" >CK20 ++/+++</text>
<text x="260.3" y="145.6" font-size="7.0" fill="#1a2450" font-weight="bold" text-anchor="middle" >CK20 -/+</text>
<text x="306.4" y="136.9" font-size="7.0" fill="#a00e0e" font-weight="bold" text-anchor="middle" >Basal</text>
<text x="306.4" y="145.6" font-size="7.0" fill="#a00e0e" font-weight="bold" text-anchor="middle" >Basal</text>
<path d="M83.82 147.4V148.18H85.55V147.4M87.08 147.4V147.89H88.66V147.4M90.53 147.4V147.76H92.29V147.4M87.87 147.89V148.24H91.41V147.76M84.68 148.18V149.28H89.64V148.24M96.76 147.4V148.02H98.78V147.4M94.32 147.4V148.59H97.77V148.02M103.25 147.4V147.73H105.54V147.4M100.76 147.4V148.05H104.4V147.73M107.46 147.4V147.73H108.98V147.4M110.28 147.4V147.68H111.62V147.4M108.22 147.73V148.04H110.95V147.68M102.58 148.05V148.69H109.58V148.04M96.05 148.59V149.83H106.08V148.69M87.16 149.28V151.81H101.06V149.83M113.09 147.4V147.99H114.58V147.4M116.08 147.4V147.71H117.67V147.4M116.88 147.71V148H119.31V147.4M113.83 147.99V148.77H118.09V148M120.79 147.4V147.85H122.14V147.4M121.47 147.85V148.06H124.01V147.4M125.73 147.4V148.24H127.66V147.4M122.74 148.06V148.98H126.69V148.24M131.49 147.4V148.04H133.17V147.4M129.91 147.4V148.36H132.33V148.04M124.72 148.98V149.62H131.12V148.36M115.96 148.77V150.73H127.92V149.62M134.98 147.4V147.97H136.61V147.4M135.79 147.97V148.52H138.46V147.4M141.82 147.4V147.92H143.33V147.4M140.31 147.4V148.45H142.58V147.92M137.13 148.52V149.18H141.45V148.45M147.39 147.4V148.28H149.08V147.4M145.42 147.4V149.05H148.23V148.28M139.29 149.18V151.33H146.83V149.05M121.94 150.73V154.14H143.06V151.33M94.11 151.81V158.8H132.5V154.14M150.79 147.4V147.81H152.78V147.4M154.55 147.4V147.77H156.19V147.4M151.79 147.81V148.39H155.37V147.77M158.24 147.4V147.75H159.76V147.4M163.15 147.4V147.61H164.76V147.4M161.43 147.4V147.8H163.95V147.61M159 147.75V148.3H162.69V147.8M153.58 148.39V149.54H160.85V148.3M168.62 147.4V147.82H170.27V147.4M166.69 147.4V148.23H169.45V147.82M171.81 147.4V147.8H173.59V147.4M172.7 147.8V148.07H175.36V147.4M168.07 148.23V149.05H174.03V148.07M157.21 149.54V150.54H171.05V149.05M177.01 147.4V148.17H178.71V147.4M177.86 148.17V148.74H180.8V147.4M182.78 147.4V148.07H184.44V147.4M183.61 148.07V148.43H186.3V147.4M187.77 147.4V148.08H189.08V147.4M184.95 148.43V148.84H188.43V148.08M179.33 148.74V150.53H186.69V148.84M191.2 147.4V148.73H193.1V147.4M194.4 147.4V148.29H195.84V147.4M192.15 148.73V149.35H195.12V148.29M183.01 150.53V151.75H193.63V149.35M164.13 150.54V154.94H188.32V151.75M197.44 147.4V148.15H198.82V147.4M198.13 148.15V148.53H200.47V147.4M202.76 147.4V148.07H204.74V147.4M199.3 148.53V149.19H203.75V148.07M206.62 147.4V148.01H208.27V147.4M207.44 148.01V148.48H209.64V147.4M201.53 149.19V149.97H208.54V148.48M211.29 147.4V147.84H212.91V147.4M212.1 147.84V148.08H214.47V147.4M216.29 147.4V148.17H217.82V147.4M213.28 148.08V148.86H217.06V148.17M221.34 147.4V147.88H222.94V147.4M219.51 147.4V148.22H222.14V147.88M224.98 147.4V148.05H226.69V147.4M220.82 148.22V149.09H225.84V148.05M228.54 147.4V148.87H230.9V147.4M223.33 149.09V150.35H229.72V148.87M215.17 148.86V151.56H226.53V150.35M205.03 149.97V154.23H220.85V151.56M176.23 154.94V161H212.94V154.23M112.5 158.8V169.2H190V161M232.72 147.4V147.95H234.09V147.4M235.91 147.4V148.22H238.14V147.4M233.41 147.95V148.66H237.03V148.22M240.27 147.4V148.06H242.06V147.4M241.17 148.06V148.57H243.99V147.4M246.04 147.4V148.01H247.52V147.4M246.78 148.01V148.53H249.42V147.4M242.58 148.57V149.97H248.1V148.53M235.22 148.66V151.27H245.34V149.97M251.23 147.4V148.85H252.7V147.4M254.1 147.4V148.72H255.45V147.4M251.96 148.85V149.64H254.77V148.72M257.24 147.4V148.57H258.86V147.4M253.37 149.64V150.5H258.05V148.57M260.21 147.4V148.78H261.94V147.4M266.16 147.4V148.35H267.88V147.4M264.16 147.4V149.18H267.02V148.35M261.07 148.78V150.23H265.59V149.18M255.71 150.5V152.35H263.33V150.23M240.28 151.27V157.47H259.52V152.35M269.7 147.4V148.63H271.36V147.4M273.05 147.4V148.91H275.13V147.4M270.53 148.63V150.48H274.09V148.91M278.7 147.4V148.11H280.15V147.4M277.02 147.4V149H279.43V148.11M278.22 149V149.69H281.82V147.4M283.45 147.4V148.36H284.77V147.4M286.32 147.4V148.38H287.8V147.4M284.11 148.36V148.98H287.06V148.38M280.02 149.69V151.64H285.59V148.98M272.31 150.48V154.67H282.8V151.64M249.9 157.47V164.4H277.56V154.67M151 169.2V173.8H246.5V164.4M289.74 147.4V151.41H291.77V147.4M293.15 147.4V149.86H294.47V147.4M297.91 147.4V149.02H299.38V147.4M296.26 147.4V150.26H298.64V149.02M293.81 149.86V152.34H297.45V150.26M290.75 151.41V155.16H295.63V152.34M301.08 147.4V149.21H302.73V147.4M305.85 147.4V148.14H307.33V147.4M304.28 147.4V149.05H306.59V148.14M301.91 149.21V150.78H305.43V149.05M308.75 147.4V148.38H310.16V147.4M309.45 148.38V149.21H311.63V147.4M313.37 147.4V148.85H314.79V147.4M310.54 149.21V150.67H314.08V148.85M315.99 147.4V148.37H317.77V147.4M319.75 147.4V148.27H321.8V147.4M316.88 148.37V149.54H320.77V148.27M312.31 150.67V152.64H318.83V149.54M303.67 150.78V157.14H315.57V152.64M293.19 155.16V164.4H309.62V157.14M199.4 173.8V192.7H305.2V164.4M252.5 192.7V197" stroke="#262626" stroke-width="0.65" fill="none" filter="url(#b03)"/>
<text x="341.8" y="12.4" font-size="14.5" fill="#111" font-weight="bold" stroke="#111" stroke-width="0.35">B</text>
<rect x="365.9" y="6.4" width="22.9" height="3.08" fill="#b7c9e8"/>
<rect x="365.9" y="9.48" width="22.9" height="86.43" fill="#1aa5ec"/>
<rect x="365.9" y="95.91" width="22.9" height="28.89" fill="#f01616"/>
<rect x="422.5" y="6.4" width="23" height="59.2" fill="#b7c9e8"/>
<rect x="422.5" y="65.6" width="23" height="41.8" fill="#1aa5ec"/>
<rect x="422.5" y="107.4" width="23" height="17.4" fill="#f01616"/>
<rect x="479.2" y="6.4" width="22.8" height="34.45" fill="#b7c9e8"/>
<rect x="479.2" y="40.85" width="22.8" height="73.17" fill="#1aa5ec"/>
<rect x="479.2" y="114.03" width="22.8" height="10.77" fill="#f01616"/>
<path d="M347 124.9H518.5" stroke="#b8b8b8" stroke-width="0.6"/>
<text x="377.3" y="10.8" font-size="7.0" fill="#17233f" font-weight="bold" text-anchor="middle" >2.6%</text>
<text x="377.3" y="56.1" font-size="7.0" fill="#17233f" font-weight="bold" text-anchor="middle" >73.0%</text>
<text x="377.3" y="114" font-size="7.0" fill="#8c0a0e" font-weight="bold" text-anchor="middle" >24.4%</text>
<text x="434" y="38.8" font-size="7.0" fill="#17233f" font-weight="bold" text-anchor="middle" >50%</text>
<text x="434" y="89.1" font-size="7.0" fill="#17233f" font-weight="bold" text-anchor="middle" >35.3%</text>
<text x="434" y="119.4" font-size="7.0" fill="#8c0a0e" font-weight="bold" text-anchor="middle" >14.7%</text>
<text x="490.6" y="27.5" font-size="7.0" fill="#17233f" font-weight="bold" text-anchor="middle" >29.1%</text>
<text x="490.6" y="79.5" font-size="7.0" fill="#17233f" font-weight="bold" text-anchor="middle" >61.8%</text>
<text x="490.6" y="122.7" font-size="7.0" fill="#8c0a0e" font-weight="bold" text-anchor="middle" >9.1%</text>
<text x="377.4" y="135.2" font-size="5.95" fill="#1a1a1a" font-weight="bold" text-anchor="middle" >CIS</text>
<text x="434" y="135.2" font-size="5.95" fill="#1a1a1a" font-weight="bold" text-anchor="middle" >pTa high grade</text>
<text x="490" y="135.2" font-size="5.95" fill="#1a1a1a" font-weight="bold" text-anchor="middle" >pT1 high grade</text>
<rect x="353.9" y="142.9" width="2.1" height="2.1" fill="#e01a1a"/>
<text x="356.4" y="145.2" font-size="4.7" fill="#2a2a2a" >Basal</text>
<rect x="371.9" y="142.9" width="2.1" height="2.1" fill="#1aa5ec"/>
<text x="374.5" y="145.2" font-size="4.7" fill="#2a2a2a" >Luminal, CK20 moderate - strong</text>
<rect x="446.9" y="142.9" width="2.1" height="2.1" fill="#b7c9e8"/>
<text x="449.4" y="145.2" font-size="4.7" fill="#2a2a2a" >Luminal, CK20 negative - weak</text>
<text x="0" y="218.8" font-size="14.5" fill="#111" font-weight="bold" stroke="#111" stroke-width="0.35">C</text>
<text x="75" y="220.7" font-size="6.0" font-weight="bold" text-anchor="middle" fill="#1c1c1c">Aberrant CK20</text>
<text x="75" y="227.7" font-size="6.0" font-weight="bold" text-anchor="middle" fill="#1c1c1c">(over-)expression</text>
<text x="75" y="234.7" font-size="6.0" font-weight="bold" text-anchor="middle" fill="#1c1c1c">(IRS 8–12)</text>
<text x="131.5" y="220.7" font-size="6.0" font-weight="bold" text-anchor="middle" fill="#1c1c1c">CK20</text>
<text x="131.5" y="227.7" font-size="6.0" font-weight="bold" text-anchor="middle" fill="#1c1c1c">negative</text>
<text x="182" y="220.7" font-size="6.0" font-weight="bold" text-anchor="middle" fill="#1c1c1c">CK20 weak/patchy*</text>
<text x="182" y="227.7" font-size="6.0" font-weight="bold" text-anchor="middle" fill="#1c1c1c">or <tspan fill="#34a56f">luminal</tspan></text>
<text x="182" y="234.7" font-size="6.0" font-weight="bold" text-anchor="middle" fill="#1c1c1c"><tspan fill="#34a56f">stratification**</tspan></text>
<text x="262" y="220.7" font-size="6.0" font-weight="bold" text-anchor="middle" fill="#1c1c1c">Basal cell like CK5 or/and CD44</text>
<text x="262" y="227.7" font-size="6.0" font-weight="bold" text-anchor="middle" fill="#1c1c1c">expression</text>
<text x="367" y="220.7" font-size="6.0" font-weight="bold" text-anchor="middle" fill="#1c1c1c">Aberrant/full-thickness CD44</text>
<text x="367" y="227.7" font-size="6.0" font-weight="bold" text-anchor="middle" fill="#1c1c1c">diffuse (over-)expression</text>
<text x="367" y="234.7" font-size="6.0" font-weight="bold" text-anchor="middle" fill="#1c1c1c">(IRS 4–12)</text>
<text x="470" y="220.7" font-size="6.0" font-weight="bold" text-anchor="middle" fill="#1c1c1c">Aberrant CK5 or/and CK14</text>
<text x="470" y="227.7" font-size="6.0" font-weight="bold" text-anchor="middle" fill="#1c1c1c">(over-)expression (IRS 8–12)</text>
<defs>
<clipPath id="ic0"><rect x="49" y="237.3" width="52.6" height="44.3"/></clipPath>
<clipPath id="ic1"><rect x="103.2" y="237.3" width="52.1" height="44.3"/></clipPath>
<clipPath id="ic2"><rect x="155.3" y="237.3" width="52.4" height="44.3"/></clipPath>
<clipPath id="ic3"><rect x="211.1" y="237.1" width="51.3" height="44.4"/></clipPath>
<clipPath id="ic4"><rect x="262.4" y="237.1" width="52.3" height="44.4"/></clipPath>
<clipPath id="ic5"><rect x="341.6" y="236.6" width="52" height="44.8"/></clipPath>
<clipPath id="ic6"><rect x="416.4" y="236.7" width="51.6" height="44.9"/></clipPath>
<clipPath id="ic7"><rect x="468" y="236.7" width="53" height="44.9"/></clipPath>
</defs>
<g clip-path="url(#ic0)">
<rect x="49" y="237.3" width="52.6" height="44.3" fill="#f7f7fb"/>
<g filter="url(#b08)">
<polygon points="49.23,241.69 59.27,238.9 73.21,238.12 69.31,243.36 61.5,248.94 55.92,256.75 49.23,261.21" fill="#dcddee" />
<polygon points="50.35,244.48 56.48,243.92 57.6,249.5 53.69,254.52 50.12,253.4" fill="#c9cbe2" />
<path d="M49.79 239.46 L70.42 251.73" stroke="#f7f7fb" stroke-width="3.2" fill="none" stroke-linecap="round" stroke-linejoin="round" />
<polygon points="96.63,242.81 101.87,241.13 101.87,282.4 94.4,282.4 99.42,268.46 98.53,261.21 95.18,253.96" fill="#e0e1ef" />
<polygon points="49.23,279.06 69.31,281.84 49.23,282.4" fill="#e6e6f0" />
<polygon points="80.46,240.02 86.04,237.68 99.64,237.68 97.41,243.03 94.07,247.49 95.18,254.18 98.53,261.77 99.09,268.68 95.18,276.49 84.03,281.4 63.73,281.84 50.35,279.84 49.9,275.37 56.15,270.91 63.73,267.57 67.63,263.66 70.98,268.68 76.22,272.03 83.81,272.03 89.94,268.68 89.38,261.77 85.48,257.31 83.25,250.61 83.81,245.04 80.46,241.92" fill="#6e2c24" />
<path d="M96.07 239.46 L89.94 243.36 L87.71 250.06 L91.06 257.86 L94.74 265.67 L91.61 273.48 L80.46 277.94 L69.31 277.16 L60.38 272.92" stroke="#5c1f1a" stroke-width="2.2" fill="none" stroke-linecap="round" stroke-linejoin="round" stroke-dasharray="1.5 2.2"/>
<path d="M93.84 243.92 L92.73 251.73 L96.07 260.65 L96.07 268.46 L89.38 275.71 L74.88 279.39 L58.15 277.94" stroke="#97503c" stroke-width="1.6" fill="none" stroke-linecap="round" stroke-linejoin="round" stroke-dasharray="1 2.5"/>
<path d="M49.79 240.02 L58.15 239.02 L69.31 240.13 L80.46 241.13" stroke="#7a4a40" stroke-width="1.0" fill="none" stroke-linecap="round" stroke-linejoin="round" />
<polygon points="84.92,264.22 92.51,264.89 92.95,270.47 86.71,270.91" fill="#f4f2f6" />
<circle cx="74.88" cy="255.63" r="0.9" fill="#5a2a24"/>
<circle cx="80.46" cy="252.85" r="0.6" fill="#5a2a24"/>
</g></g>
<rect x="49" y="237.3" width="52.6" height="44.3" fill="none" stroke="#4a4e5c" stroke-width="0.65"/>
<g clip-path="url(#ic1)">
<rect x="103.2" y="237.3" width="52.1" height="44.3" fill="#e7e9f4"/>
<g filter="url(#b08)">
<polygon points="103.23,252.85 123.86,237.45 131.67,237.45 125.31,246.15 127.99,251.73 137.81,257.31 146.95,265.34 145.39,267.12 134.46,260.43 123.86,259.31 117.73,268.46 108.81,280.73 103.23,280.73 103.23,270.69 112.15,260.88" fill="#f6f7fb" />
<polygon points="103.79,238.12 113.83,238.12 111.6,245.6 104.35,247.27" fill="#cdd7ec" />
<polygon points="117.73,268.46 123.86,259.54 134.46,260.65 145.61,267.34 155.43,271.81 155.43,280.95 108.81,280.95" fill="#e3e5f2" />
<polygon points="131.67,237.79 155.43,237.79 155.43,270.69 146.73,265.11 137.81,257.08 128.33,251.73 125.54,246.15" fill="#e2e4f1" />
</g></g>
<rect x="103.2" y="237.3" width="52.1" height="44.3" fill="none" stroke="#4a4e5c" stroke-width="0.65"/>
<g clip-path="url(#ic2)">
<rect x="155.3" y="237.3" width="52.4" height="44.3" fill="#f6f5f7"/>
<g filter="url(#b08)">
<polygon points="160.25,277.16 175.31,272.7 189.81,268.68 196.72,264.22 203.97,250.84 207.87,246.15 207.87,281.84 155.23,281.84" fill="#e8e8f1" />
<polygon points="158.58,269.02 165.27,265.67 173.08,262.88 180.88,258.98 185.34,251.73 188.69,243.92 192.04,239.46 202.07,238.9 204.86,242.81 203.75,250.61 199.84,257.31 196.5,264 189.81,268.46 182,270.69 175.31,272.36 167.5,275.15 160.25,276.82 158.58,272.92" fill="#d4b89e" />
<path d="M160.81 272.92 L169.73 270.13 L178.65 266.79 L187.58 262.88 L193.15 256.19 L196.5 248.38 L198.73 241.69" stroke="#c19a72" stroke-width="2.8" fill="none" stroke-linecap="round" stroke-linejoin="round" stroke-dasharray="2 1.6"/>
<path d="M188.69 247.27 L192.04 242.81 L199.84 241.69" stroke="#ead8c8" stroke-width="1.4" fill="none" stroke-linecap="round" stroke-linejoin="round" />
</g></g>
<rect x="155.3" y="237.3" width="52.4" height="44.3" fill="none" stroke="#4a4e5c" stroke-width="0.65"/>
<g clip-path="url(#ic3)">
<rect x="211.1" y="237.1" width="51.3" height="44.4" fill="#f6f5f8"/>
<g filter="url(#b08)">
<polygon points="238.11,248.38 242.58,240.8 245.36,243.92 252.61,251.73 257.07,262.88 255.96,271.81 250.38,275.15 241.46,276.49 230.31,278.5 221.38,275.15 215.81,269.58 224.73,262.88 233.65,256.19" fill="#ebebf5" />
<polygon points="226.96,268.46 237,262.88 245.92,265.11 252.61,270.69 245.92,275.15 232.54,276.82" fill="#e0e0f0" />
<path d="M238.11 248.38 L242.58 240.8 L245.36 243.92 L252.61 251.73 L257.07 262.88 L255.96 271.81 L250.38 275.15 L241.46 276.49 L230.31 278.5 L221.38 275.15 L215.81 269.58 L224.73 262.88 L233.65 256.19 L238.11 248.38" stroke="#8a6e66" stroke-width="0.7" fill="none" stroke-linecap="round" stroke-linejoin="round" stroke-dasharray="1.1 0.9"/>
<path d="M243.69 241.13 L248.15 240.35 L252.61 241.47" stroke="#5a4a48" stroke-width="0.8" fill="none" stroke-linecap="round" stroke-linejoin="round" stroke-dasharray="0.6 0.8"/>
<polygon points="211.12,237.01 234.21,237.01 233.09,239.46 226.96,239.68 223.61,238.12 220.27,240.58 215.81,241.92 214.92,248.38 213.58,254.18 211.12,254.18" fill="#a98a6a" />
<polygon points="211.12,241.69 213.58,241.92 213.35,252.85 211.12,253.4" fill="#8a7470" />
<polygon points="211.12,277.94 215.81,277.38 216.36,281.62 211.12,281.62" fill="#a08868" />
<path d="M214.13 271.81 L213.02 277.38" stroke="#a89070" stroke-width="1.2" fill="none" stroke-linecap="round" stroke-linejoin="round" />
</g></g>
<rect x="211.1" y="237.1" width="51.3" height="44.4" fill="none" stroke="#4a4e5c" stroke-width="0.65"/>
<g clip-path="url(#ic4)">
<rect x="262.4" y="237.1" width="52.3" height="44.4" fill="#f6f4f7"/>
<g filter="url(#b08)">
<polygon points="266.69,268.46 273.38,260.65 282.31,253.96 291.23,247.27 297.92,243.36 306.84,242.81 312.42,245.04 314.87,251.73 314.87,281.84 273.38,281.84 267.81,277.38" fill="#b9bbdd" />
<polygon points="276.73,264 289,253.96 300.15,249.5 304.61,257.31 302.38,271.81 289,278.5 277.85,275.15" fill="#a9aedb" />
<polygon points="304.61,245.6 314.43,247.27 314.43,264 307.96,260.65" fill="#d2cfe6" />
<polygon points="262.68,237.01 270.6,237.01 268.92,241.69 270.6,247.27 269.48,253.4 263.35,253.4" fill="#a78c90" />
<polygon points="271.15,237.01 290.11,237.01 291.79,239.46 286.77,243.36 279.52,245.26 275.06,240.02" fill="#a08486" />
<path d="M265.02 241.69 L272.27 245.04" stroke="#f4f2f6" stroke-width="1.6" fill="none" stroke-linecap="round" stroke-linejoin="round" />
<path d="M293.46 241.69 L306.84 239.46 L313.54 240.58" stroke="#cfc6d6" stroke-width="1.0" fill="none" stroke-linecap="round" stroke-linejoin="round" />
<polygon points="262.68,278.72 268.92,279.06 269.48,281.84 262.68,281.84" fill="#8a7478" />
</g></g>
<rect x="262.4" y="237.1" width="52.3" height="44.4" fill="none" stroke="#4a4e5c" stroke-width="0.65"/>
<g clip-path="url(#ic5)">
<rect x="341.6" y="236.6" width="52" height="44.8" fill="#f6f5f6"/>
<g filter="url(#b08)">
<polygon points="345.92,278.77 366.69,273 384,265.38 390.57,248.08 394.15,237.46 394.15,281.31 341.31,281.31" fill="#e4e4ec" />
<polygon points="343.62,267.46 352.85,264 362.08,261.11 369,255.92 372.46,247.85 375.92,240.92 380.54,239.19 388.61,240.35 390.34,247.85 388.61,257.08 384,265.15 375.92,269.77 366.69,272.65 357.46,275.54 345.92,278.42 343.62,274.38" fill="#cbae94" />
<path d="M345.92 273.23 L356.31 270 L366.69 266.54 L375.92 261.69 L381.69 253.61 L384.58 244.38" stroke="#bf9876" stroke-width="2.4" fill="none" stroke-linecap="round" stroke-linejoin="round" stroke-dasharray="2 1.5"/>
<path d="M389.77 241.5 L393.23 237.46" stroke="#c8a890" stroke-width="1.0" fill="none" stroke-linecap="round" stroke-linejoin="round" />
<path d="M344.77 277.61 L357.46 274.61 L367.27 272.08 L376.15 269.19 L384.23 264.58" stroke="#b89070" stroke-width="0.8" fill="none" stroke-linecap="round" stroke-linejoin="round" />
</g></g>
<rect x="341.6" y="236.6" width="52" height="44.8" fill="none" stroke="#4a4e5c" stroke-width="0.65"/>
<g clip-path="url(#ic6)">
<rect x="416.4" y="236.7" width="51.6" height="44.9" fill="#f5f3f2"/>
<g filter="url(#b08)">
<polygon points="418.08,279.25 434.38,275.17 452.73,271.1 467.4,261.52 468.63,281.29 416.85,281.29" fill="#e0e3eb" />
<polygon points="417.67,265.59 426.23,262.54 436.42,260.5 444.57,256.42 447.63,248.27 451.71,242.56 460.88,241.75 467.4,246.23 467.4,260.5 461.9,266.61 452.73,270.69 444.57,272.32 434.38,274.77 426.23,278.44 418.08,278.84" fill="#c39a6e" />
<path d="M420.11 272.73 L432.34 268.24 L444.57 264.57 L454.77 257.44 L459.86 248.27" stroke="#d4b48e" stroke-width="2.0" fill="none" stroke-linecap="round" stroke-linejoin="round" stroke-dasharray="1.6 2"/>
<path d="M418.48 278.44 L434.38 274.77 L452.73 270.69 L462.1 266.61" stroke="#a87a4c" stroke-width="0.9" fill="none" stroke-linecap="round" stroke-linejoin="round" />
</g></g>
<rect x="416.4" y="236.7" width="51.6" height="44.9" fill="none" stroke="#4a4e5c" stroke-width="0.65"/>
<g clip-path="url(#ic7)">
<rect x="468" y="236.7" width="53" height="44.9" fill="#f4f2f1"/>
<g filter="url(#b08)">
<polygon points="469.03,279.66 483.3,276.19 503.69,270.08 514.29,264.57 521.01,258.46 521.01,281.29 468.22,281.29" fill="#dde1ea" />
<polygon points="468.63,266.61 479.23,262.54 489.42,259.48 495.53,254.38 498.59,246.23 503.69,241.13 513.88,240.11 521.01,243.17 521.01,258.46 513.88,264.57 503.69,269.67 493.49,272.73 483.3,275.79 475.15,279.25 468.63,279.25" fill="#652613" />
<path d="M472.09 273.75 L483.3 269.06 L495.53 264.57 L505.72 256.42 L511.84 246.23" stroke="#8c3c1e" stroke-width="2.2" fill="none" stroke-linecap="round" stroke-linejoin="round" stroke-dasharray="1.2 2.2"/>
<path d="M475.15 269.67 L491.46 262.54 L501.65 252.34 L509.8 243.17" stroke="#4a1608" stroke-width="1.6" fill="none" stroke-linecap="round" stroke-linejoin="round" stroke-dasharray="1 2.6"/>
<circle cx="512.86" cy="246.64" r="1.1" fill="#f4ece6"/>
</g></g>
<rect x="468" y="236.7" width="53" height="44.9" fill="none" stroke="#4a4e5c" stroke-width="0.65"/>
<path d="M248.3 281.8V287.4H279.6V281.8" stroke="#1a1a1a" stroke-width="1.5" fill="none"/>
<path d="M454.4 281.8V287.9H486.2V281.8" stroke="#1a1a1a" stroke-width="1.5" fill="none"/>
<text x="0.3" y="309.05" font-size="6.85" fill="#1a1a1a" font-weight="bold" >Luminal CIS</text>
<text x="0.3" y="325.15" font-size="6.85" fill="#1a1a1a" font-weight="bold" >Basal CIS</text>
<text x="0.3" y="342.05" font-size="6.85" fill="#1a1a1a" font-weight="bold" >DYS</text>
<text x="0.3" y="366.15" font-size="6.85" fill="#1a1a1a" font-weight="bold" >UPUMP/HYP</text>
<text x="0.3" y="391.25" font-size="6.85" fill="#1a1a1a" font-weight="bold" >U</text>
<text x="0.3" y="407.25" font-size="6.85" fill="#1a1a1a" font-weight="bold" >NU</text>
<text x="53" y="309" font-size="6.8" fill="#333" >59/59 (100%)</text>
<text x="53" y="325.1" font-size="6.8" fill="#333" >0/19 (0%)</text>
<text x="53" y="342" font-size="6.8" fill="#333" >2/13 (15.4%)</text>
<text x="53" y="366.1" font-size="6.8" fill="#333" >2/6 (33.3%)</text>
<text x="53" y="391.2" font-size="6.8" fill="#333" >0/12 (0.0%)</text>
<text x="53" y="407.2" font-size="6.8" fill="#333" >0/5 (0.0%)</text>
<text x="111.8" y="309" font-size="6.8" fill="#333" >0/59 (0%)</text>
<text x="111.8" y="325.1" font-size="6.8" fill="#333" >7/19 (36.8%)</text>
<text x="111.8" y="342" font-size="6.8" fill="#333" >0/13 (0.0%)</text>
<text x="111.8" y="366.1" font-size="6.8" fill="#333" >0/6 (0.0%)</text>
<text x="111.8" y="391.2" font-size="6.8" fill="#333" >0/12 (0.0%)</text>
<text x="111.8" y="407.2" font-size="6.8" fill="#333" >0/5 (0.0%)</text>
<text x="246.1" y="309" font-size="6.8" fill="#333" >52/59 (88.1%)</text>
<text x="246.1" y="325.1" font-size="6.8" fill="#333" >0/19 (0%)</text>
<text x="246.1" y="342" font-size="6.8" fill="#333" >12/13 (92.3%)</text>
<text x="247.9" y="366.1" font-size="6.8" fill="#333" >6/6 (100.0%)</text>
<text x="246.1" y="391.2" font-size="6.8" fill="#333" >12/12 (100.0%)</text>
<text x="246.1" y="407.2" font-size="6.8" fill="#333" >5/5 (100.0%)</text>
<text x="351.9" y="309" font-size="6.8" fill="#333" >8/59 (13.6%)</text>
<text x="351.9" y="325.1" font-size="6.8" fill="#333" >17/19 (89.5%)</text>
<text x="351.9" y="342" font-size="6.8" fill="#333" >6/13 (46.2%)</text>
<text x="353.7" y="366.1" font-size="6.8" fill="#333" >0/6 (0.0%)</text>
<text x="351.9" y="391.2" font-size="6.8" fill="#333" >0/12 (0.0%)</text>
<text x="351.9" y="407.2" font-size="6.8" fill="#333" >0/5 (0.0%)</text>
<text x="449.8" y="309" font-size="6.8" fill="#333" >0/59 (0%)</text>
<text x="449.8" y="325.1" font-size="6.8" fill="#333" >19/19 (100%)</text>
<text x="449.8" y="342" font-size="6.8" fill="#333" >1/13 (7.7%)</text>
<text x="449.8" y="366.1" font-size="6.8" fill="#333" >0/6 (0.0%)</text>
<text x="449.8" y="391.2" font-size="6.8" fill="#333" >0/12 (0.0%)</text>
<text x="449.8" y="407.2" font-size="6.8" fill="#333" >0/5 (0.0%)</text>
<text x="162.8" y="309" font-size="6.8" fill="#333" >0/59 (0%)</text>
<text x="162.8" y="325.1" font-size="6.8" fill="#333" >12/19 (63.2%)*</text>
<text x="162.8" y="342" font-size="6.8" fill="#333" >9/13 (69.2%)*</text>
<text x="162.8" y="349.7" font-size="6.8" fill="#34a56f" >2/13 (15.4%)**</text>
<text x="162.8" y="366.1" font-size="6.8" fill="#333" >3/6 (50.0%)*</text>
<text x="162.8" y="374" font-size="6.8" fill="#34a56f" >1/6 (16.7%)**</text>
<text x="163.9" y="391.2" font-size="6.8" fill="#34a56f" >12/12 (100.0%)**</text>
<text x="163.9" y="407.2" font-size="6.8" fill="#34a56f" >5/5 (100.0%)**</text>
<text x="4.4" y="439.3" font-size="14.5" fill="#111" font-weight="bold" stroke="#111" stroke-width="0.35">D</text>
<g filter="url(#b05)">
<g>
<rect x="63.48" y="441.7" width="15.92" height="10.2" fill="#3b62de"/>
<rect x="79.25" y="441.7" width="14.93" height="10.2" fill="#e2414b"/>
<rect x="94.03" y="441.7" width="2.12" height="10.2" fill="#3b62de"/>
<rect x="96" y="441.7" width="2.12" height="10.2" fill="#e2414b"/>
<rect x="97.98" y="441.7" width="0.81" height="10.2" fill="#3b62de"/>
<rect x="98.63" y="441.7" width="2.12" height="10.2" fill="#e2414b"/>
<rect x="100.6" y="441.7" width="28.08" height="10.2" fill="#3b62de"/>
<rect x="128.53" y="441.7" width="5.9" height="10.2" fill="#e2414b"/>
<rect x="134.28" y="441.7" width="7.87" height="10.2" fill="#3b62de"/>
<rect x="63.48" y="452" width="5.57" height="11.05" fill="#a81422"/>
<rect x="68.9" y="452" width="1.79" height="11.05" fill="#c8282a"/>
<rect x="70.54" y="452" width="5.57" height="11.05" fill="#f5f3f4"/>
<rect x="75.96" y="452" width="2.61" height="11.05" fill="#a8cce6"/>
<rect x="78.43" y="452" width="5.08" height="11.05" fill="#8f0e20"/>
<rect x="83.36" y="452" width="5.08" height="11.05" fill="#c8282a"/>
<rect x="88.28" y="452" width="5.9" height="11.05" fill="#c8282a"/>
<rect x="94.03" y="452" width="3.44" height="11.05" fill="#f09a7c"/>
<rect x="97.32" y="452" width="4.26" height="11.05" fill="#d23c2e"/>
<rect x="101.43" y="452" width="5.08" height="11.05" fill="#e86a4e"/>
<rect x="106.35" y="452" width="8.36" height="11.05" fill="#a81422"/>
<rect x="114.57" y="452" width="5.08" height="11.05" fill="#f09a7c"/>
<rect x="119.49" y="452" width="5.9" height="11.05" fill="#f7bea8"/>
<rect x="125.24" y="452" width="4.26" height="11.05" fill="#e05a44"/>
<rect x="129.35" y="452" width="1.79" height="11.05" fill="#f09a7c"/>
<rect x="130.99" y="452" width="11.16" height="11.05" fill="#fbe2d8"/>
<rect x="63.48" y="463.03" width="5.57" height="11.05" fill="#b41a24"/>
<rect x="68.9" y="463.03" width="4.75" height="11.05" fill="#fceee8"/>
<rect x="73.5" y="463.03" width="5.08" height="11.05" fill="#fad6c8"/>
<rect x="78.43" y="463.03" width="5.08" height="11.05" fill="#d23c2e"/>
<rect x="83.36" y="463.03" width="3.44" height="11.05" fill="#e86a4e"/>
<rect x="86.64" y="463.03" width="2.61" height="11.05" fill="#f4aa8e"/>
<rect x="89.1" y="463.03" width="5.08" height="11.05" fill="#c8282a"/>
<rect x="94.03" y="463.03" width="5.08" height="11.05" fill="#f09a7c"/>
<rect x="98.96" y="463.03" width="7.54" height="11.05" fill="#fbe2d8"/>
<rect x="106.35" y="463.03" width="3.44" height="11.05" fill="#fad6c8"/>
<rect x="109.64" y="463.03" width="5.08" height="11.05" fill="#f09a7c"/>
<rect x="114.57" y="463.03" width="4.26" height="11.05" fill="#f7bea8"/>
<rect x="118.67" y="463.03" width="6.72" height="11.05" fill="#fbe2d8"/>
<rect x="125.24" y="463.03" width="4.26" height="11.05" fill="#f4aa8e"/>
<rect x="129.35" y="463.03" width="5.9" height="11.05" fill="#fceee8"/>
<rect x="135.1" y="463.03" width="3.44" height="11.05" fill="#b41a24"/>
<rect x="138.39" y="463.03" width="3.76" height="11.05" fill="#f09a7c"/>
<rect x="63.48" y="474.06" width="6.06" height="11.05" fill="#8f0e20"/>
<rect x="69.39" y="474.06" width="1.79" height="11.05" fill="#c8282a"/>
<rect x="71.03" y="474.06" width="3.44" height="11.05" fill="#f4aa8e"/>
<rect x="74.32" y="474.06" width="20.68" height="11.05" fill="#fceee8"/>
<rect x="94.85" y="474.06" width="5.9" height="11.05" fill="#f5f3f4"/>
<rect x="100.6" y="474.06" width="2.61" height="11.05" fill="#a81422"/>
<rect x="103.07" y="474.06" width="3.44" height="11.05" fill="#e05a44"/>
<rect x="106.35" y="474.06" width="3.44" height="11.05" fill="#fad6c8"/>
<rect x="109.64" y="474.06" width="2.61" height="11.05" fill="#d23c2e"/>
<rect x="112.1" y="474.06" width="4.26" height="11.05" fill="#fbe2d8"/>
<rect x="116.21" y="474.06" width="13.29" height="11.05" fill="#f5f3f4"/>
<rect x="129.35" y="474.06" width="4.26" height="11.05" fill="#a8cce6"/>
<rect x="133.46" y="474.06" width="2.61" height="11.05" fill="#5a9cd0"/>
<rect x="135.92" y="474.06" width="6.23" height="11.05" fill="#f5f3f4"/>
<rect x="63.48" y="485.09" width="6.89" height="11.05" fill="#c8282a"/>
<rect x="70.21" y="485.09" width="6.72" height="11.05" fill="#b41a24"/>
<rect x="76.78" y="485.09" width="1.79" height="11.05" fill="#c8282a"/>
<rect x="78.43" y="485.09" width="5.08" height="11.05" fill="#b41a24"/>
<rect x="83.36" y="485.09" width="4.26" height="11.05" fill="#c8282a"/>
<rect x="87.46" y="485.09" width="4.26" height="11.05" fill="#f4aa8e"/>
<rect x="91.57" y="485.09" width="5.9" height="11.05" fill="#c8282a"/>
<rect x="97.32" y="485.09" width="3.44" height="11.05" fill="#d23c2e"/>
<rect x="100.6" y="485.09" width="3.44" height="11.05" fill="#f7bea8"/>
<rect x="103.89" y="485.09" width="3.44" height="11.05" fill="#d23c2e"/>
<rect x="107.17" y="485.09" width="5.08" height="11.05" fill="#8f0e20"/>
<rect x="112.1" y="485.09" width="4.26" height="11.05" fill="#d23c2e"/>
<rect x="116.21" y="485.09" width="9.18" height="11.05" fill="#e05a44"/>
<rect x="125.24" y="485.09" width="4.26" height="11.05" fill="#f09a7c"/>
<rect x="129.35" y="485.09" width="5.08" height="11.05" fill="#d0e4f2"/>
<rect x="134.28" y="485.09" width="4.26" height="11.05" fill="#a8cce6"/>
<rect x="138.39" y="485.09" width="3.76" height="11.05" fill="#e4eef6"/>
<rect x="63.48" y="496.12" width="2.78" height="11.05" fill="#a81422"/>
<rect x="66.11" y="496.12" width="4.26" height="11.05" fill="#f5f3f4"/>
<rect x="70.21" y="496.12" width="6.72" height="11.05" fill="#fbe2d8"/>
<rect x="76.78" y="496.12" width="5.9" height="11.05" fill="#c8282a"/>
<rect x="82.53" y="496.12" width="5.9" height="11.05" fill="#c8282a"/>
<rect x="88.28" y="496.12" width="3.44" height="11.05" fill="#f09a7c"/>
<rect x="91.57" y="496.12" width="5.9" height="11.05" fill="#e05a44"/>
<rect x="97.32" y="496.12" width="4.26" height="11.05" fill="#f4aa8e"/>
<rect x="101.43" y="496.12" width="5.08" height="11.05" fill="#f7bea8"/>
<rect x="106.35" y="496.12" width="3.44" height="11.05" fill="#d23c2e"/>
<rect x="109.64" y="496.12" width="9.18" height="11.05" fill="#a81422"/>
<rect x="118.67" y="496.12" width="3.44" height="11.05" fill="#f09a7c"/>
<rect x="121.96" y="496.12" width="3.44" height="11.05" fill="#fad6c8"/>
<rect x="125.24" y="496.12" width="4.26" height="11.05" fill="#f09a7c"/>
<rect x="129.35" y="496.12" width="6.72" height="11.05" fill="#f5f3f4"/>
<rect x="135.92" y="496.12" width="6.23" height="11.05" fill="#e4eef6"/>
<rect x="63.48" y="507.15" width="5.24" height="11.05" fill="#fbe2d8"/>
<rect x="68.57" y="507.15" width="10.01" height="11.05" fill="#fceee8"/>
<rect x="78.43" y="507.15" width="4.26" height="11.05" fill="#f4aa8e"/>
<rect x="82.53" y="507.15" width="5.9" height="11.05" fill="#fad6c8"/>
<rect x="88.28" y="507.15" width="4.26" height="11.05" fill="#f7bea8"/>
<rect x="92.39" y="507.15" width="5.08" height="11.05" fill="#fad6c8"/>
<rect x="97.32" y="507.15" width="9.18" height="11.05" fill="#f7bea8"/>
<rect x="106.35" y="507.15" width="5.08" height="11.05" fill="#fad6c8"/>
<rect x="111.28" y="507.15" width="6.72" height="11.05" fill="#f5f3f4"/>
<rect x="117.85" y="507.15" width="7.54" height="11.05" fill="#e4eef6"/>
<rect x="125.24" y="507.15" width="5.9" height="11.05" fill="#d0e4f2"/>
<rect x="130.99" y="507.15" width="4.26" height="11.05" fill="#8ebfe0"/>
<rect x="135.1" y="507.15" width="3.44" height="11.05" fill="#4a90c8"/>
<rect x="138.39" y="507.15" width="3.76" height="11.05" fill="#3a80c0"/>
<rect x="63.48" y="518.18" width="5.24" height="11.05" fill="#c8282a"/>
<rect x="68.57" y="518.18" width="2.61" height="11.05" fill="#f09a7c"/>
<rect x="71.03" y="518.18" width="3.44" height="11.05" fill="#f7bea8"/>
<rect x="74.32" y="518.18" width="4.26" height="11.05" fill="#e86a4e"/>
<rect x="78.43" y="518.18" width="4.26" height="11.05" fill="#f09a7c"/>
<rect x="82.53" y="518.18" width="5.9" height="11.05" fill="#f7bea8"/>
<rect x="88.28" y="518.18" width="9.18" height="11.05" fill="#fbe2d8"/>
<rect x="97.32" y="518.18" width="4.26" height="11.05" fill="#f7bea8"/>
<rect x="101.43" y="518.18" width="10.01" height="11.05" fill="#fceee8"/>
<rect x="111.28" y="518.18" width="5.08" height="11.05" fill="#fad6c8"/>
<rect x="116.21" y="518.18" width="13.29" height="11.05" fill="#f5f3f4"/>
<rect x="129.35" y="518.18" width="5.08" height="11.05" fill="#c2dbee"/>
<rect x="134.28" y="518.18" width="4.26" height="11.05" fill="#8ebfe0"/>
<rect x="138.39" y="518.18" width="3.76" height="11.05" fill="#a8cce6"/>
<rect x="63.48" y="529.21" width="6.06" height="11.05" fill="#a81422"/>
<rect x="69.39" y="529.21" width="5.08" height="11.05" fill="#c8282a"/>
<rect x="74.32" y="529.21" width="4.26" height="11.05" fill="#e05a44"/>
<rect x="78.43" y="529.21" width="10.01" height="11.05" fill="#f5f3f4"/>
<rect x="88.28" y="529.21" width="5.9" height="11.05" fill="#e4eef6"/>
<rect x="94.03" y="529.21" width="5.08" height="11.05" fill="#fceee8"/>
<rect x="98.96" y="529.21" width="2.61" height="11.05" fill="#fad6c8"/>
<rect x="101.43" y="529.21" width="4.26" height="11.05" fill="#f4aa8e"/>
<rect x="105.53" y="529.21" width="4.26" height="11.05" fill="#fad6c8"/>
<rect x="109.64" y="529.21" width="8.36" height="11.05" fill="#fceee8"/>
<rect x="117.85" y="529.21" width="7.54" height="11.05" fill="#fbe2d8"/>
<rect x="125.24" y="529.21" width="4.26" height="11.05" fill="#fceee8"/>
<rect x="129.35" y="529.21" width="5.9" height="11.05" fill="#d0e4f2"/>
<rect x="135.1" y="529.21" width="3.44" height="11.05" fill="#8ebfe0"/>
<rect x="138.39" y="529.21" width="3.76" height="11.05" fill="#4a90c8"/>
<rect x="142" y="441.7" width="19.53" height="10.2" fill="#3b62de"/>
<rect x="161.38" y="441.7" width="2.94" height="10.2" fill="#e2414b"/>
<rect x="164.18" y="441.7" width="6.72" height="10.2" fill="#3b62de"/>
<rect x="170.75" y="441.7" width="2.94" height="10.2" fill="#e2414b"/>
<rect x="173.54" y="441.7" width="6.06" height="10.2" fill="#3b62de"/>
<rect x="179.45" y="441.7" width="2.94" height="10.2" fill="#e2414b"/>
<rect x="182.25" y="441.7" width="10.01" height="10.2" fill="#3b62de"/>
<rect x="192.1" y="441.7" width="23.97" height="10.2" fill="#e2414b"/>
<rect x="215.92" y="441.7" width="6.23" height="10.2" fill="#3b62de"/>
<rect x="142" y="452" width="3.44" height="11.05" fill="#fad6c8"/>
<rect x="145.29" y="452" width="3.44" height="11.05" fill="#fceee8"/>
<rect x="148.57" y="452" width="3.44" height="11.05" fill="#fad6c8"/>
<rect x="151.86" y="452" width="3.44" height="11.05" fill="#c8282a"/>
<rect x="155.14" y="452" width="8.36" height="11.05" fill="#e4eef6"/>
<rect x="163.36" y="452" width="13.29" height="11.05" fill="#fceee8"/>
<rect x="176.5" y="452" width="3.44" height="11.05" fill="#e05a44"/>
<rect x="179.78" y="452" width="11.65" height="11.05" fill="#f5f3f4"/>
<rect x="191.28" y="452" width="3.44" height="11.05" fill="#e4eef6"/>
<rect x="194.57" y="452" width="21.51" height="11.05" fill="#fceee8"/>
<rect x="215.92" y="452" width="3.44" height="11.05" fill="#d23c2e"/>
<rect x="219.21" y="452" width="2.94" height="11.05" fill="#fad6c8"/>
<rect x="142" y="463.03" width="1.46" height="11.05" fill="#fceee8"/>
<rect x="143.31" y="463.03" width="2.94" height="11.05" fill="#8f0e20"/>
<rect x="146.11" y="463.03" width="5.9" height="11.05" fill="#f5f3f4"/>
<rect x="151.86" y="463.03" width="3.44" height="11.05" fill="#fad6c8"/>
<rect x="155.14" y="463.03" width="11.65" height="11.05" fill="#f5f3f4"/>
<rect x="166.64" y="463.03" width="3.44" height="11.05" fill="#fbe2d8"/>
<rect x="169.93" y="463.03" width="14.93" height="11.05" fill="#e4eef6"/>
<rect x="184.71" y="463.03" width="3.44" height="11.05" fill="#d0e4f2"/>
<rect x="188" y="463.03" width="3.44" height="11.05" fill="#f5f3f4"/>
<rect x="191.28" y="463.03" width="5.08" height="11.05" fill="#fbe2d8"/>
<rect x="196.21" y="463.03" width="25.94" height="11.05" fill="#f5f3f4"/>
<rect x="142" y="474.06" width="13.29" height="11.05" fill="#fbe2d8"/>
<rect x="155.14" y="474.06" width="3.44" height="11.05" fill="#f7bea8"/>
<rect x="158.43" y="474.06" width="16.58" height="11.05" fill="#fceee8"/>
<rect x="174.85" y="474.06" width="10.83" height="11.05" fill="#f5f3f4"/>
<rect x="185.53" y="474.06" width="5.9" height="11.05" fill="#e86a4e"/>
<rect x="191.28" y="474.06" width="6.72" height="11.05" fill="#e4eef6"/>
<rect x="197.85" y="474.06" width="18.22" height="11.05" fill="#d0e4f2"/>
<rect x="215.92" y="474.06" width="6.23" height="11.05" fill="#f5f3f4"/>
<rect x="142" y="485.09" width="6.72" height="11.05" fill="#e4eef6"/>
<rect x="148.57" y="485.09" width="3.44" height="11.05" fill="#4a90c8"/>
<rect x="151.86" y="485.09" width="3.44" height="11.05" fill="#fceee8"/>
<rect x="155.14" y="485.09" width="3.11" height="11.05" fill="#a81422"/>
<rect x="158.1" y="485.09" width="3.44" height="11.05" fill="#f09a7c"/>
<rect x="161.38" y="485.09" width="3.76" height="11.05" fill="#f7bea8"/>
<rect x="165" y="485.09" width="2.12" height="11.05" fill="#d23c2e"/>
<rect x="166.97" y="485.09" width="3.93" height="11.05" fill="#f4aa8e"/>
<rect x="170.75" y="485.09" width="10.83" height="11.05" fill="#fbe2d8"/>
<rect x="181.43" y="485.09" width="4.75" height="11.05" fill="#fceee8"/>
<rect x="186.02" y="485.09" width="11.98" height="11.05" fill="#e05a44"/>
<rect x="197.85" y="485.09" width="10.01" height="11.05" fill="#fceee8"/>
<rect x="207.71" y="485.09" width="10.01" height="11.05" fill="#f5f3f4"/>
<rect x="217.56" y="485.09" width="4.59" height="11.05" fill="#fad6c8"/>
<rect x="142" y="496.12" width="3.44" height="11.05" fill="#e4eef6"/>
<rect x="145.29" y="496.12" width="3.44" height="11.05" fill="#a8cce6"/>
<rect x="148.57" y="496.12" width="3.44" height="11.05" fill="#d0e4f2"/>
<rect x="151.86" y="496.12" width="11.65" height="11.05" fill="#f5f3f4"/>
<rect x="163.36" y="496.12" width="5.08" height="11.05" fill="#fbe2d8"/>
<rect x="168.28" y="496.12" width="23.15" height="11.05" fill="#f5f3f4"/>
<rect x="191.28" y="496.12" width="3.44" height="11.05" fill="#fbe2d8"/>
<rect x="194.57" y="496.12" width="6.39" height="11.05" fill="#f09a7c"/>
<rect x="200.81" y="496.12" width="7.05" height="11.05" fill="#fbe2d8"/>
<rect x="207.71" y="496.12" width="8.36" height="11.05" fill="#f5f3f4"/>
<rect x="215.92" y="496.12" width="3.44" height="11.05" fill="#1e5ca0"/>
<rect x="219.21" y="496.12" width="2.94" height="11.05" fill="#8ebfe0"/>
<rect x="142" y="507.15" width="2.61" height="11.05" fill="#2f72b5"/>
<rect x="144.46" y="507.15" width="7.54" height="11.05" fill="#16437e"/>
<rect x="151.86" y="507.15" width="4.26" height="11.05" fill="#f09a7c"/>
<rect x="155.96" y="507.15" width="4.26" height="11.05" fill="#fad6c8"/>
<rect x="160.07" y="507.15" width="8.36" height="11.05" fill="#e4eef6"/>
<rect x="168.28" y="507.15" width="6.72" height="11.05" fill="#a8cce6"/>
<rect x="174.85" y="507.15" width="10.83" height="11.05" fill="#d0e4f2"/>
<rect x="185.53" y="507.15" width="3.44" height="11.05" fill="#1e5ca0"/>
<rect x="188.82" y="507.15" width="3.44" height="11.05" fill="#d0e4f2"/>
<rect x="192.1" y="507.15" width="2.94" height="11.05" fill="#e05a44"/>
<rect x="194.9" y="507.15" width="4.75" height="11.05" fill="#fad6c8"/>
<rect x="199.49" y="507.15" width="8.36" height="11.05" fill="#f5f3f4"/>
<rect x="207.71" y="507.15" width="8.36" height="11.05" fill="#d0e4f2"/>
<rect x="215.92" y="507.15" width="3.44" height="11.05" fill="#2f72b5"/>
<rect x="219.21" y="507.15" width="2.94" height="11.05" fill="#d0e4f2"/>
<rect x="142" y="518.18" width="3.44" height="11.05" fill="#d0e4f2"/>
<rect x="145.29" y="518.18" width="3.44" height="11.05" fill="#fad6c8"/>
<rect x="148.57" y="518.18" width="3.44" height="11.05" fill="#d0e4f2"/>
<rect x="151.86" y="518.18" width="3.44" height="11.05" fill="#4a90c8"/>
<rect x="155.14" y="518.18" width="8.36" height="11.05" fill="#8ebfe0"/>
<rect x="163.36" y="518.18" width="8.36" height="11.05" fill="#a8cce6"/>
<rect x="171.57" y="518.18" width="5.9" height="11.05" fill="#c2dbee"/>
<rect x="177.32" y="518.18" width="2.94" height="11.05" fill="#a8cce6"/>
<rect x="180.11" y="518.18" width="8.86" height="11.05" fill="#3a80c0"/>
<rect x="188.82" y="518.18" width="3.44" height="11.05" fill="#1e5ca0"/>
<rect x="192.1" y="518.18" width="6.72" height="11.05" fill="#fbe2d8"/>
<rect x="198.67" y="518.18" width="12.47" height="11.05" fill="#f5f3f4"/>
<rect x="210.99" y="518.18" width="11.16" height="11.05" fill="#e4eef6"/>
<rect x="142" y="529.21" width="4.26" height="11.05" fill="#f5f3f4"/>
<rect x="146.11" y="529.21" width="2.61" height="11.05" fill="#1e5ca0"/>
<rect x="148.57" y="529.21" width="3.44" height="11.05" fill="#a8cce6"/>
<rect x="151.86" y="529.21" width="6.72" height="11.05" fill="#fbe2d8"/>
<rect x="158.43" y="529.21" width="16.58" height="11.05" fill="#fceee8"/>
<rect x="174.85" y="529.21" width="16.58" height="11.05" fill="#e4eef6"/>
<rect x="191.28" y="529.21" width="6.72" height="11.05" fill="#d0e4f2"/>
<rect x="197.85" y="529.21" width="10.01" height="11.05" fill="#a8cce6"/>
<rect x="207.71" y="529.21" width="14.44" height="11.05" fill="#c2dbee"/>
<rect x="222" y="441.7" width="4.26" height="10.2" fill="#3b62de"/>
<rect x="226.11" y="441.7" width="11.65" height="10.2" fill="#e2414b"/>
<rect x="237.61" y="441.7" width="12.47" height="10.2" fill="#3b62de"/>
<rect x="249.93" y="441.7" width="3.44" height="10.2" fill="#e2414b"/>
<rect x="253.21" y="441.7" width="6.39" height="10.2" fill="#3b62de"/>
<rect x="259.45" y="441.7" width="6.23" height="10.2" fill="#e2414b"/>
<rect x="265.53" y="441.7" width="6.72" height="10.2" fill="#3b62de"/>
<rect x="272.1" y="441.7" width="10.83" height="10.2" fill="#e2414b"/>
<rect x="282.78" y="441.7" width="14.11" height="10.2" fill="#3b62de"/>
<rect x="296.74" y="441.7" width="5.41" height="10.2" fill="#e2414b"/>
<rect x="222" y="452" width="1.79" height="11.05" fill="#fceee8"/>
<rect x="223.64" y="452" width="2.61" height="11.05" fill="#fad6c8"/>
<rect x="226.11" y="452" width="5.9" height="11.05" fill="#d0e4f2"/>
<rect x="231.86" y="452" width="5.08" height="11.05" fill="#fceee8"/>
<rect x="236.78" y="452" width="7.54" height="11.05" fill="#c2dbee"/>
<rect x="244.18" y="452" width="5.9" height="11.05" fill="#4a90c8"/>
<rect x="249.93" y="452" width="6.72" height="11.05" fill="#a8cce6"/>
<rect x="256.5" y="452" width="14.93" height="11.05" fill="#e4eef6"/>
<rect x="271.28" y="452" width="3.44" height="11.05" fill="#fbe2d8"/>
<rect x="274.57" y="452" width="6.72" height="11.05" fill="#e4eef6"/>
<rect x="281.14" y="452" width="5.9" height="11.05" fill="#3a80c0"/>
<rect x="286.89" y="452" width="2.94" height="11.05" fill="#16437e"/>
<rect x="289.68" y="452" width="6.39" height="11.05" fill="#8ebfe0"/>
<rect x="295.92" y="452" width="3.44" height="11.05" fill="#3a80c0"/>
<rect x="299.21" y="452" width="2.94" height="11.05" fill="#a8cce6"/>
<rect x="222" y="463.03" width="2.61" height="11.05" fill="#fbe2d8"/>
<rect x="224.46" y="463.03" width="7.54" height="11.05" fill="#e4eef6"/>
<rect x="231.86" y="463.03" width="5.9" height="11.05" fill="#a8cce6"/>
<rect x="237.61" y="463.03" width="5.9" height="11.05" fill="#5a9cd0"/>
<rect x="243.36" y="463.03" width="11.65" height="11.05" fill="#f5f3f4"/>
<rect x="254.85" y="463.03" width="10.01" height="11.05" fill="#d0e4f2"/>
<rect x="264.71" y="463.03" width="6.72" height="11.05" fill="#f5f3f4"/>
<rect x="271.28" y="463.03" width="10.01" height="11.05" fill="#e4eef6"/>
<rect x="281.14" y="463.03" width="5.9" height="11.05" fill="#2f72b5"/>
<rect x="286.89" y="463.03" width="2.94" height="11.05" fill="#1e5ca0"/>
<rect x="289.68" y="463.03" width="6.39" height="11.05" fill="#a8cce6"/>
<rect x="295.92" y="463.03" width="6.23" height="11.05" fill="#d0e4f2"/>
<rect x="222" y="474.06" width="10.01" height="11.05" fill="#f5f3f4"/>
<rect x="231.86" y="474.06" width="6.72" height="11.05" fill="#e4eef6"/>
<rect x="238.43" y="474.06" width="5.08" height="11.05" fill="#fbe2d8"/>
<rect x="243.36" y="474.06" width="6.72" height="11.05" fill="#f5f3f4"/>
<rect x="249.93" y="474.06" width="5.08" height="11.05" fill="#f7bea8"/>
<rect x="254.85" y="474.06" width="16.58" height="11.05" fill="#e4eef6"/>
<rect x="271.28" y="474.06" width="12.47" height="11.05" fill="#4a90c8"/>
<rect x="283.6" y="474.06" width="3.44" height="11.05" fill="#16437e"/>
<rect x="286.89" y="474.06" width="7.54" height="11.05" fill="#3a80c0"/>
<rect x="294.28" y="474.06" width="7.87" height="11.05" fill="#4a90c8"/>
<rect x="222" y="485.09" width="3.44" height="11.05" fill="#8ebfe0"/>
<rect x="225.29" y="485.09" width="3.44" height="11.05" fill="#f4aa8e"/>
<rect x="228.57" y="485.09" width="10.01" height="11.05" fill="#d0e4f2"/>
<rect x="238.43" y="485.09" width="11.65" height="11.05" fill="#a8cce6"/>
<rect x="249.93" y="485.09" width="5.08" height="11.05" fill="#fbe2d8"/>
<rect x="254.85" y="485.09" width="11.65" height="11.05" fill="#c2dbee"/>
<rect x="266.35" y="485.09" width="5.08" height="11.05" fill="#a8cce6"/>
<rect x="271.28" y="485.09" width="8.36" height="11.05" fill="#d0e4f2"/>
<rect x="279.49" y="485.09" width="10.01" height="11.05" fill="#3a80c0"/>
<rect x="289.35" y="485.09" width="6.72" height="11.05" fill="#5a9cd0"/>
<rect x="295.92" y="485.09" width="3.44" height="11.05" fill="#2f72b5"/>
<rect x="299.21" y="485.09" width="2.94" height="11.05" fill="#a8cce6"/>
<rect x="222" y="496.12" width="1.79" height="11.05" fill="#3a80c0"/>
<rect x="223.64" y="496.12" width="2.12" height="11.05" fill="#1e5ca0"/>
<rect x="225.61" y="496.12" width="12.96" height="11.05" fill="#e4eef6"/>
<rect x="238.43" y="496.12" width="5.9" height="11.05" fill="#a8cce6"/>
<rect x="244.18" y="496.12" width="10.83" height="11.05" fill="#d0e4f2"/>
<rect x="254.85" y="496.12" width="5.08" height="11.05" fill="#a8cce6"/>
<rect x="259.78" y="496.12" width="5.08" height="11.05" fill="#d0e4f2"/>
<rect x="264.71" y="496.12" width="5.08" height="11.05" fill="#fbe2d8"/>
<rect x="269.64" y="496.12" width="10.83" height="11.05" fill="#d0e4f2"/>
<rect x="280.32" y="496.12" width="9.18" height="11.05" fill="#2f72b5"/>
<rect x="289.35" y="496.12" width="6.72" height="11.05" fill="#8ebfe0"/>
<rect x="295.92" y="496.12" width="6.23" height="11.05" fill="#a8cce6"/>
<rect x="222" y="507.15" width="5.08" height="11.05" fill="#f5f3f4"/>
<rect x="226.93" y="507.15" width="11.65" height="11.05" fill="#fceee8"/>
<rect x="238.43" y="507.15" width="10.01" height="11.05" fill="#f5f3f4"/>
<rect x="248.28" y="507.15" width="6.72" height="11.05" fill="#d0e4f2"/>
<rect x="254.85" y="507.15" width="5.08" height="11.05" fill="#a8cce6"/>
<rect x="259.78" y="507.15" width="5.08" height="11.05" fill="#5a9cd0"/>
<rect x="264.71" y="507.15" width="6.72" height="11.05" fill="#d0e4f2"/>
<rect x="271.28" y="507.15" width="5.08" height="11.05" fill="#a8cce6"/>
<rect x="276.21" y="507.15" width="4.26" height="11.05" fill="#4a90c8"/>
<rect x="280.32" y="507.15" width="5.08" height="11.05" fill="#d0e4f2"/>
<rect x="285.24" y="507.15" width="2.61" height="11.05" fill="#a8cce6"/>
<rect x="287.71" y="507.15" width="3.44" height="11.05" fill="#fbe2d8"/>
<rect x="290.99" y="507.15" width="11.16" height="11.05" fill="#e4eef6"/>
<rect x="222" y="518.18" width="8.36" height="11.05" fill="#a8cce6"/>
<rect x="230.21" y="518.18" width="7.54" height="11.05" fill="#5a9cd0"/>
<rect x="237.61" y="518.18" width="2.94" height="11.05" fill="#1e5ca0"/>
<rect x="240.4" y="518.18" width="15.43" height="11.05" fill="#e4eef6"/>
<rect x="255.68" y="518.18" width="3.44" height="11.05" fill="#4a90c8"/>
<rect x="258.96" y="518.18" width="17.4" height="11.05" fill="#e4eef6"/>
<rect x="276.21" y="518.18" width="11.65" height="11.05" fill="#c2dbee"/>
<rect x="287.71" y="518.18" width="14.44" height="11.05" fill="#a8cce6"/>
<rect x="222" y="529.21" width="7.54" height="11.05" fill="#4a90c8"/>
<rect x="229.39" y="529.21" width="8.36" height="11.05" fill="#8ebfe0"/>
<rect x="237.61" y="529.21" width="6.72" height="11.05" fill="#e4eef6"/>
<rect x="244.18" y="529.21" width="3.44" height="11.05" fill="#f4aa8e"/>
<rect x="247.46" y="529.21" width="7.54" height="11.05" fill="#f5f3f4"/>
<rect x="254.85" y="529.21" width="10.01" height="11.05" fill="#d0e4f2"/>
<rect x="264.71" y="529.21" width="11.65" height="11.05" fill="#a8cce6"/>
<rect x="276.21" y="529.21" width="6.72" height="11.05" fill="#d0e4f2"/>
<rect x="282.78" y="529.21" width="6.72" height="11.05" fill="#3a80c0"/>
<rect x="289.35" y="529.21" width="5.08" height="11.05" fill="#a8cce6"/>
<rect x="294.28" y="529.21" width="7.87" height="11.05" fill="#a8cce6"/>
<rect x="302" y="441.7" width="15.76" height="10.2" fill="#e2414b"/>
<rect x="317.61" y="441.7" width="48.61" height="10.2" fill="#3b62de"/>
<rect x="302" y="452" width="3.44" height="11.05" fill="#8ebfe0"/>
<rect x="305.29" y="452" width="6.72" height="11.05" fill="#3a80c0"/>
<rect x="311.86" y="452" width="5.9" height="11.05" fill="#4a90c8"/>
<rect x="317.61" y="452" width="17.4" height="11.05" fill="#c2dbee"/>
<rect x="334.85" y="452" width="4.26" height="11.05" fill="#f5f3f4"/>
<rect x="338.96" y="452" width="12.47" height="11.05" fill="#c2dbee"/>
<rect x="351.28" y="452" width="8.36" height="11.05" fill="#a8cce6"/>
<rect x="359.49" y="452" width="6.72" height="11.05" fill="#c2dbee"/>
<rect x="302" y="463.03" width="5.08" height="11.05" fill="#a8cce6"/>
<rect x="306.93" y="463.03" width="5.08" height="11.05" fill="#8ebfe0"/>
<rect x="311.86" y="463.03" width="5.9" height="11.05" fill="#a8cce6"/>
<rect x="317.61" y="463.03" width="15.76" height="11.05" fill="#f5f3f4"/>
<rect x="333.21" y="463.03" width="11.65" height="11.05" fill="#e4eef6"/>
<rect x="344.71" y="463.03" width="3.44" height="11.05" fill="#5a9cd0"/>
<rect x="348" y="463.03" width="10.01" height="11.05" fill="#d0e4f2"/>
<rect x="357.85" y="463.03" width="8.36" height="11.05" fill="#a8cce6"/>
<rect x="302" y="474.06" width="3.44" height="11.05" fill="#1e5ca0"/>
<rect x="305.29" y="474.06" width="3.44" height="11.05" fill="#3a80c0"/>
<rect x="308.57" y="474.06" width="20.68" height="11.05" fill="#1e5ca0"/>
<rect x="329.1" y="474.06" width="4.26" height="11.05" fill="#e4eef6"/>
<rect x="333.21" y="474.06" width="5.9" height="11.05" fill="#3a80c0"/>
<rect x="338.96" y="474.06" width="5.9" height="11.05" fill="#2f72b5"/>
<rect x="344.71" y="474.06" width="3.44" height="11.05" fill="#8ebfe0"/>
<rect x="348" y="474.06" width="8.36" height="11.05" fill="#1e5ca0"/>
<rect x="356.21" y="474.06" width="5.08" height="11.05" fill="#3a80c0"/>
<rect x="361.14" y="474.06" width="5.08" height="11.05" fill="#1e5ca0"/>
<rect x="302" y="485.09" width="5.08" height="11.05" fill="#3a80c0"/>
<rect x="306.93" y="485.09" width="10.83" height="11.05" fill="#2f72b5"/>
<rect x="317.61" y="485.09" width="9.18" height="11.05" fill="#e4eef6"/>
<rect x="326.64" y="485.09" width="14.93" height="11.05" fill="#a8cce6"/>
<rect x="341.43" y="485.09" width="10.01" height="11.05" fill="#8ebfe0"/>
<rect x="351.28" y="485.09" width="5.9" height="11.05" fill="#4a90c8"/>
<rect x="357.03" y="485.09" width="3.44" height="11.05" fill="#16437e"/>
<rect x="360.32" y="485.09" width="3.44" height="11.05" fill="#3a80c0"/>
<rect x="363.6" y="485.09" width="2.61" height="11.05" fill="#d0e4f2"/>
<rect x="302" y="496.12" width="5.08" height="11.05" fill="#8ebfe0"/>
<rect x="306.93" y="496.12" width="10.83" height="11.05" fill="#3a80c0"/>
<rect x="317.61" y="496.12" width="9.18" height="11.05" fill="#f5f3f4"/>
<rect x="326.64" y="496.12" width="16.58" height="11.05" fill="#d0e4f2"/>
<rect x="343.07" y="496.12" width="5.08" height="11.05" fill="#a8cce6"/>
<rect x="348" y="496.12" width="3.44" height="11.05" fill="#5a9cd0"/>
<rect x="351.28" y="496.12" width="3.44" height="11.05" fill="#d0e4f2"/>
<rect x="354.57" y="496.12" width="11.65" height="11.05" fill="#3a80c0"/>
<rect x="302" y="507.15" width="5.08" height="11.05" fill="#3a80c0"/>
<rect x="306.93" y="507.15" width="10.83" height="11.05" fill="#2f72b5"/>
<rect x="317.61" y="507.15" width="9.18" height="11.05" fill="#fad6c8"/>
<rect x="326.64" y="507.15" width="2.61" height="11.05" fill="#c8282a"/>
<rect x="329.1" y="507.15" width="3.44" height="11.05" fill="#8f0e20"/>
<rect x="332.39" y="507.15" width="19.04" height="11.05" fill="#fbe2d8"/>
<rect x="351.28" y="507.15" width="3.44" height="11.05" fill="#fceee8"/>
<rect x="354.57" y="507.15" width="5.08" height="11.05" fill="#d23c2e"/>
<rect x="359.49" y="507.15" width="6.72" height="11.05" fill="#fbe2d8"/>
<rect x="302" y="518.18" width="5.08" height="11.05" fill="#3a80c0"/>
<rect x="306.93" y="518.18" width="10.83" height="11.05" fill="#2f72b5"/>
<rect x="317.61" y="518.18" width="2.61" height="11.05" fill="#8f0e20"/>
<rect x="320.07" y="518.18" width="3.44" height="11.05" fill="#f09a7c"/>
<rect x="323.36" y="518.18" width="9.18" height="11.05" fill="#fbe2d8"/>
<rect x="332.39" y="518.18" width="3.44" height="11.05" fill="#d23c2e"/>
<rect x="335.68" y="518.18" width="9.18" height="11.05" fill="#fceee8"/>
<rect x="344.71" y="518.18" width="4.26" height="11.05" fill="#f09a7c"/>
<rect x="348.82" y="518.18" width="9.18" height="11.05" fill="#e05a44"/>
<rect x="357.85" y="518.18" width="2.61" height="11.05" fill="#d23c2e"/>
<rect x="360.32" y="518.18" width="5.9" height="11.05" fill="#fceee8"/>
<rect x="302" y="529.21" width="6.72" height="11.05" fill="#c2dbee"/>
<rect x="308.57" y="529.21" width="9.18" height="11.05" fill="#a8cce6"/>
<rect x="317.61" y="529.21" width="7.54" height="11.05" fill="#fbe2d8"/>
<rect x="325" y="529.21" width="19.86" height="11.05" fill="#fceee8"/>
<rect x="344.71" y="529.21" width="3.44" height="11.05" fill="#8ebfe0"/>
<rect x="348" y="529.21" width="5.08" height="11.05" fill="#5a9cd0"/>
<rect x="352.92" y="529.21" width="3.44" height="11.05" fill="#d0e4f2"/>
<rect x="356.21" y="529.21" width="10.01" height="11.05" fill="#fbe2d8"/>
</g>
</g>
<path d="M62.8 452H367.8M62.8 463.03H367.8M62.8 474.06H367.8M62.8 485.09H367.8M62.8 496.12H367.8M62.8 507.15H367.8M62.8 518.18H367.8M62.8 529.21H367.8M62.8 540.24H367.8" stroke="#4e5a5e" stroke-width="0.75" opacity="0.85" fill="none"/>
<g font-size="3.5" fill="#484848" font-weight="bold" text-anchor="end">
<text transform="translate(66.42 430.9) rotate(-90)">H478</text>
<text transform="translate(69.86 430.9) rotate(-90)">W90-3</text>
<text transform="translate(73.31 430.9) rotate(-90)">B957</text>
<text transform="translate(76.75 430.9) rotate(-90)">H296</text>
<text transform="translate(80.19 430.9) rotate(-90)">W79-3</text>
<text transform="translate(83.63 430.9) rotate(-90)">H337</text>
<text transform="translate(87.07 430.9) rotate(-90)">W11</text>
<text transform="translate(90.52 430.9) rotate(-90)">B30</text>
<text transform="translate(93.96 430.9) rotate(-90)">B48-1</text>
<text transform="translate(97.4 430.9) rotate(-90)">M70-3</text>
<text transform="translate(100.84 430.9) rotate(-90)">W64-2</text>
<text transform="translate(104.28 430.9) rotate(-90)">W27-2</text>
<text transform="translate(107.73 430.9) rotate(-90)">H606</text>
<text transform="translate(111.17 430.9) rotate(-90)">W897</text>
<text transform="translate(114.61 430.9) rotate(-90)">M63</text>
<text transform="translate(118.05 430.9) rotate(-90)">W687</text>
<text transform="translate(121.49 430.9) rotate(-90)">W698</text>
<text transform="translate(124.94 430.9) rotate(-90)">M798</text>
<text transform="translate(128.38 430.9) rotate(-90)">B45-3</text>
<text transform="translate(131.82 430.9) rotate(-90)">H99</text>
<text transform="translate(135.26 430.9) rotate(-90)">B93-1</text>
<text transform="translate(138.7 430.9) rotate(-90)">M46</text>
<text transform="translate(142.15 430.9) rotate(-90)">W974</text>
<text transform="translate(145.59 430.9) rotate(-90)">W21</text>
<text transform="translate(149.03 430.9) rotate(-90)">B520</text>
<text transform="translate(152.47 430.9) rotate(-90)">B47-2</text>
<text transform="translate(155.91 430.9) rotate(-90)">B15-3</text>
<text transform="translate(159.36 430.9) rotate(-90)">B58</text>
<text transform="translate(162.8 430.9) rotate(-90)">M80-2</text>
<text transform="translate(166.24 430.9) rotate(-90)">B417</text>
<text transform="translate(169.68 430.9) rotate(-90)">B714</text>
<text transform="translate(173.12 430.9) rotate(-90)">H517</text>
<text transform="translate(176.57 430.9) rotate(-90)">M259</text>
<text transform="translate(180.01 430.9) rotate(-90)">M50</text>
<text transform="translate(183.45 430.9) rotate(-90)">H982</text>
<text transform="translate(186.89 430.9) rotate(-90)">W990</text>
<text transform="translate(190.33 430.9) rotate(-90)">B735</text>
<text transform="translate(193.78 430.9) rotate(-90)">M65-3</text>
<text transform="translate(197.22 430.9) rotate(-90)">H48-2</text>
<text transform="translate(200.66 430.9) rotate(-90)">M80-2</text>
<text transform="translate(204.1 430.9) rotate(-90)">W693</text>
<text transform="translate(207.54 430.9) rotate(-90)">W730</text>
<text transform="translate(210.99 430.9) rotate(-90)">H161</text>
<text transform="translate(214.43 430.9) rotate(-90)">M69</text>
<text transform="translate(217.87 430.9) rotate(-90)">M723</text>
<text transform="translate(221.31 430.9) rotate(-90)">W12-3</text>
<text transform="translate(224.76 430.9) rotate(-90)">B478</text>
<text transform="translate(228.2 430.9) rotate(-90)">W405</text>
<text transform="translate(231.64 430.9) rotate(-90)">M281</text>
<text transform="translate(235.08 430.9) rotate(-90)">M876</text>
<text transform="translate(238.52 430.9) rotate(-90)">M407</text>
<text transform="translate(241.97 430.9) rotate(-90)">B13-3</text>
<text transform="translate(245.41 430.9) rotate(-90)">H49</text>
<text transform="translate(248.85 430.9) rotate(-90)">M344</text>
<text transform="translate(252.29 430.9) rotate(-90)">W765</text>
<text transform="translate(255.73 430.9) rotate(-90)">B86</text>
<text transform="translate(259.18 430.9) rotate(-90)">M791</text>
<text transform="translate(262.62 430.9) rotate(-90)">W31-1</text>
<text transform="translate(266.06 430.9) rotate(-90)">H682</text>
<text transform="translate(269.5 430.9) rotate(-90)">H905</text>
<text transform="translate(272.94 430.9) rotate(-90)">H422</text>
<text transform="translate(276.39 430.9) rotate(-90)">H45-2</text>
<text transform="translate(279.83 430.9) rotate(-90)">B89-2</text>
<text transform="translate(283.27 430.9) rotate(-90)">W398</text>
<text transform="translate(286.71 430.9) rotate(-90)">M575</text>
<text transform="translate(290.15 430.9) rotate(-90)">W397</text>
<text transform="translate(293.6 430.9) rotate(-90)">W136</text>
<text transform="translate(297.04 430.9) rotate(-90)">H35-1</text>
<text transform="translate(300.48 430.9) rotate(-90)">W672</text>
<text transform="translate(303.92 430.9) rotate(-90)">H14-3</text>
<text transform="translate(307.36 430.9) rotate(-90)">M656</text>
<text transform="translate(310.81 430.9) rotate(-90)">H982</text>
<text transform="translate(314.25 430.9) rotate(-90)">M222</text>
<text transform="translate(317.69 430.9) rotate(-90)">B14-3</text>
<text transform="translate(321.13 430.9) rotate(-90)">H540</text>
<text transform="translate(324.57 430.9) rotate(-90)">B592</text>
<text transform="translate(328.02 430.9) rotate(-90)">H74-2</text>
<text transform="translate(331.46 430.9) rotate(-90)">B637</text>
<text transform="translate(334.9 430.9) rotate(-90)">B726</text>
<text transform="translate(338.34 430.9) rotate(-90)">H358</text>
<text transform="translate(341.78 430.9) rotate(-90)">W17-2</text>
<text transform="translate(345.23 430.9) rotate(-90)">B647</text>
<text transform="translate(348.67 430.9) rotate(-90)">B31-1</text>
<text transform="translate(352.11 430.9) rotate(-90)">H10-2</text>
<text transform="translate(355.55 430.9) rotate(-90)">W16</text>
<text transform="translate(358.99 430.9) rotate(-90)">H44-3</text>
<text transform="translate(362.44 430.9) rotate(-90)">W152</text>
<text transform="translate(365.88 430.9) rotate(-90)">B977</text>
</g>
<text x="25" y="448.4" font-size="4.25" fill="#222" font-weight="bold" >Sample type</text>
<text x="25.8" y="459.2" font-size="5.2" fill="#111" >ACTG2</text>
<text x="25.8" y="470.4" font-size="5.2" fill="#111" >CNN1</text>
<text x="25.8" y="481.2" font-size="5.2" fill="#111" >CD44</text>
<text x="25.8" y="492.3" font-size="5.2" fill="#111" >MFAP4</text>
<text x="25.8" y="503.1" font-size="5.2" fill="#111" >MYH11</text>
<text x="25.8" y="514.3" font-size="5.2" fill="#111" >SNAI2</text>
<text x="25.8" y="525.3" font-size="5.2" fill="#111" >ZEB2</text>
<text x="25.8" y="536.4" font-size="5.2" fill="#111" >VIM</text>
<path d="M57.9 457.5H63.6M57.9 468.6H63.6M57.9 457.5V468.6M54.2 463.2H57.9M57 479.6H63.6M59.9 490.8H63.6M59.9 501.8H63.6M59.9 490.8V501.8M57 496.1H59.9M57 479.6V496.1M54.2 487.8H57M54.2 463.2V487.8M48.6 475.3H54.2M54.5 512.4H63.6M54.5 523.7H63.6M54.5 512.4V523.7M53.2 518H54.5M53.2 535H63.6M53.2 518V535M48.6 526.4H53.2M48.6 475.3V526.4M47.4 500H48.6" stroke="#2e2e2e" stroke-width="0.6" fill="none"/>
<path d="M65.64 543.2V544.73H69.88V543.2M75.17 543.2V544.83H79.63V543.2M67.76 544.73V546.21H77.4V544.83M94.21 543.2V545.01H98.22V543.2M89.97 543.2V545.62H96.22V545.01M84.67 543.2V546.91H93.09V545.62M72.58 546.21V549H88.88V546.91M102.31 543.2V544.43H107.05V543.2M111.59 543.2V543.96H115.38V543.2M119.54 543.2V543.9H123.22V543.2M113.48 543.96V544.57H121.38V543.9M104.68 544.43V546.4H117.43V544.57M127.27 543.2V543.85H133.43V543.2M138.94 543.2V544.01H144.51V543.2M141.72 544.01V544.34H150.68V543.2M130.35 543.85V545H146.2V544.34M154.88 543.2V543.71H158.83V543.2M156.86 543.71V544.02H164.68V543.2M170.05 543.2V543.65H173.57V543.2M160.77 544.02V544.65H171.81V543.65M138.28 545V546.8H166.29V544.65M111.06 546.4V551H152.28V546.8M176.52 543.2V544.21H180.42V543.2M184.17 543.2V543.73H187.62V543.2M185.89 543.73V544.44H192.51V543.2M178.47 544.21V545.41H189.2V544.44M197.75 543.2V544.21H202.18V543.2M211.3 543.2V544.24H215.38V543.2M206.84 543.2V544.8H213.34V544.24M199.96 544.21V545.57H210.09V544.8M225.21 543.2V544.47H229.85V543.2M220.19 543.2V545.7H227.53V544.47M205.03 545.57V547.84H223.86V545.7M183.83 545.41V550H214.44V547.84M233.78 543.2V543.68H238.32V543.2M242.37 543.2V543.54H246.21V543.2M244.29 543.54V543.87H252.08V543.2M236.05 543.68V544.15H248.19V543.87M257.35 543.2V543.44H261.01V543.2M259.18 543.44V543.71H265.44V543.2M242.12 544.15V544.58H262.31V543.71M271.34 543.2V543.63H277.44V543.2M282.22 543.2V543.6H286.65V543.2M274.39 543.63V544.21H284.44V543.6M252.21 544.58V546.05H279.41V544.21M290.82 543.2V543.93H295.51V543.2M301.87 543.2V543.71H306.97V543.2M311.42 543.2V543.75H316.02V543.2M304.42 543.71V544.4H313.72V543.75M293.16 543.93V545.25H309.07V544.4M265.81 546.05V548H301.12V545.25M320.51 543.2V544.2H325.08V543.2M322.79 544.2V544.66H330.55V543.2M336.07 543.2V544.44H339.67V543.2M337.87 544.44V545.31H344.53V543.2M350.18 543.2V543.77H353.97V543.2M352.08 543.77V544.01H357.56V543.2M354.82 544.01V544.69H362.83V543.2M341.2 545.31V546.71H358.82V544.69M326.67 544.66V548H350.01V546.71M68 546V549H99.6V546M84.8 549V556.8H170.4V551M128 556.8V561.9H317.7V553.2M294 547V553.2H340V547M222.5 561.9V565M65.44 540.4v1.3a1.5 1.5 0 0 0 3 0v-1.3M72.33 540.4v1.3a1.5 1.5 0 0 0 3 0v-1.3M79.21 540.4v1.3a1.5 1.5 0 0 0 3 0v-1.3M86.09 540.4v1.3a1.5 1.5 0 0 0 3 0v-1.3M92.98 540.4v1.3a1.5 1.5 0 0 0 3 0v-1.3M99.86 540.4v1.3a1.5 1.5 0 0 0 3 0v-1.3M106.75 540.4v1.3a1.5 1.5 0 0 0 3 0v-1.3M113.63 540.4v1.3a1.5 1.5 0 0 0 3 0v-1.3M120.51 540.4v1.3a1.5 1.5 0 0 0 3 0v-1.3M127.4 540.4v1.3a1.5 1.5 0 0 0 3 0v-1.3M134.28 540.4v1.3a1.5 1.5 0 0 0 3 0v-1.3M141.17 540.4v1.3a1.5 1.5 0 0 0 3 0v-1.3M148.05 540.4v1.3a1.5 1.5 0 0 0 3 0v-1.3M154.94 540.4v1.3a1.5 1.5 0 0 0 3 0v-1.3M161.82 540.4v1.3a1.5 1.5 0 0 0 3 0v-1.3M168.7 540.4v1.3a1.5 1.5 0 0 0 3 0v-1.3M175.59 540.4v1.3a1.5 1.5 0 0 0 3 0v-1.3M182.47 540.4v1.3a1.5 1.5 0 0 0 3 0v-1.3M189.36 540.4v1.3a1.5 1.5 0 0 0 3 0v-1.3M196.24 540.4v1.3a1.5 1.5 0 0 0 3 0v-1.3M203.12 540.4v1.3a1.5 1.5 0 0 0 3 0v-1.3M210.01 540.4v1.3a1.5 1.5 0 0 0 3 0v-1.3M216.89 540.4v1.3a1.5 1.5 0 0 0 3 0v-1.3M223.78 540.4v1.3a1.5 1.5 0 0 0 3 0v-1.3M230.66 540.4v1.3a1.5 1.5 0 0 0 3 0v-1.3M237.54 540.4v1.3a1.5 1.5 0 0 0 3 0v-1.3M244.43 540.4v1.3a1.5 1.5 0 0 0 3 0v-1.3M251.31 540.4v1.3a1.5 1.5 0 0 0 3 0v-1.3M258.2 540.4v1.3a1.5 1.5 0 0 0 3 0v-1.3M265.08 540.4v1.3a1.5 1.5 0 0 0 3 0v-1.3M271.96 540.4v1.3a1.5 1.5 0 0 0 3 0v-1.3M278.85 540.4v1.3a1.5 1.5 0 0 0 3 0v-1.3M285.73 540.4v1.3a1.5 1.5 0 0 0 3 0v-1.3M292.62 540.4v1.3a1.5 1.5 0 0 0 3 0v-1.3M299.5 540.4v1.3a1.5 1.5 0 0 0 3 0v-1.3M306.39 540.4v1.3a1.5 1.5 0 0 0 3 0v-1.3M313.27 540.4v1.3a1.5 1.5 0 0 0 3 0v-1.3M320.15 540.4v1.3a1.5 1.5 0 0 0 3 0v-1.3M327.04 540.4v1.3a1.5 1.5 0 0 0 3 0v-1.3M333.92 540.4v1.3a1.5 1.5 0 0 0 3 0v-1.3M340.81 540.4v1.3a1.5 1.5 0 0 0 3 0v-1.3M347.69 540.4v1.3a1.5 1.5 0 0 0 3 0v-1.3M354.57 540.4v1.3a1.5 1.5 0 0 0 3 0v-1.3M361.46 540.4v1.3a1.5 1.5 0 0 0 3 0v-1.3" stroke="#2e2e2e" stroke-width="0.6" fill="none" filter="url(#b03)"/>
<text x="384.6" y="432.6" font-size="5.0" fill="#1a1a1a" font-weight="bold" >Sample type</text>
<rect x="385" y="435" width="14.7" height="4.6" fill="#4a72d4" stroke="#3355bb" stroke-width="0.3"/>
<rect x="385" y="442.2" width="14.7" height="4.6" fill="#ee1c1c" stroke="#cc1111" stroke-width="0.3"/>
<text x="401.5" y="439.2" font-size="5.6" fill="#222" textLength="27.7" lengthAdjust="spacingAndGlyphs">Single cases</text>
<text x="401.5" y="446.4" font-size="5.6" fill="#222" textLength="34.6" lengthAdjust="spacingAndGlyphs">Mapping cases</text>
<rect x="385.4" y="464.2" width="6.18" height="8.5" fill="#6e1420"/>
<rect x="391.48" y="464.2" width="6.18" height="8.5" fill="#a02028"/>
<rect x="397.56" y="464.2" width="6.18" height="8.5" fill="#c84838"/>
<rect x="403.65" y="464.2" width="6.18" height="8.5" fill="#f0a080"/>
<rect x="409.73" y="464.2" width="6.18" height="8.5" fill="#fae0d4"/>
<rect x="415.81" y="464.2" width="6.18" height="8.5" fill="#f6f4f2"/>
<rect x="421.89" y="464.2" width="6.18" height="8.5" fill="#dce8f2"/>
<rect x="427.97" y="464.2" width="6.18" height="8.5" fill="#a8cce4"/>
<rect x="434.05" y="464.2" width="6.18" height="8.5" fill="#5c9ccc"/>
<rect x="440.14" y="464.2" width="6.18" height="8.5" fill="#3070b0"/>
<rect x="446.22" y="464.2" width="6.18" height="8.5" fill="#184880"/>
<rect x="385.4" y="464.2" width="66.9" height="8.5" fill="none" stroke="#555" stroke-width="0.3"/>
<text x="387" y="461.3" font-size="3.8" fill="#333" >+3</text>
<text x="421.5" y="461.3" font-size="3.9" fill="#222" font-weight="bold" text-anchor="middle" >Log<tspan font-size="2.6" dy="0.8">2</tspan><tspan dy="-0.8"> (fold change)</tspan></text>
<text x="447.7" y="461.3" font-size="3.8" fill="#333" >-3</text>
<text x="4.4" y="590.8" font-size="14.5" fill="#111" font-weight="bold" stroke="#111" stroke-width="0.35">E</text>
<path d="M43.6 595.8V666.5H131.9" stroke="#111" stroke-width="1.15" fill="none"/>
<text x="36.4" y="598.45" font-size="5.3" fill="#111" font-weight="bold" text-anchor="end" >2</text>
<text x="36.4" y="615.95" font-size="5.3" fill="#111" font-weight="bold" text-anchor="end" >1</text>
<text x="36.4" y="633.55" font-size="5.3" fill="#111" font-weight="bold" text-anchor="end" >0</text>
<text x="36.4" y="651.05" font-size="5.3" fill="#111" font-weight="bold" text-anchor="end" >-1</text>
<text x="36.4" y="668.25" font-size="5.3" fill="#111" font-weight="bold" text-anchor="end" >-2</text>
<path d="M38.4 596.6H43.6M38.4 614.1H43.6M38.4 631.7H43.6M38.4 649.2H43.6M38.4 666.4H43.6M51.3 666.5V671.9M63.35 666.5V671.9M75.4 666.5V671.9M87.45 666.5V671.9M99.5 666.5V671.9M111.55 666.5V671.9M123.6 666.5V671.9" stroke="#111" stroke-width="1.0" fill="none"/>
<path d="M44.1 631.8H132.5" stroke="#111" stroke-width="1.3" stroke-dasharray="1.4 1.9" fill="none"/>
<text transform="translate(26.6 632.7) rotate(-90)" font-size="5.0" font-weight="bold" text-anchor="middle" fill="#111">ECM-Score (Z-Score)</text>
<path d="M51.3 592.3H123.6M51.3 601.8H63.5" stroke="#111" stroke-width="0.8"/>
<text x="86.5" y="590.2" font-size="3.7" fill="#222" text-anchor="middle" ><tspan font-style="italic">P</tspan> = 0.095</text>
<text x="57.6" y="600" font-size="3.7" fill="#222" text-anchor="middle" ><tspan font-style="italic">P</tspan> = 0.016</text>
<path d="M51.3 624.6V631.2M51.3 648.6V649.2M49.3 624.6H53.3M49.3 649.2H53.3" stroke="#111" stroke-width="0.9" fill="none"/>
<rect x="47.35" y="631.2" width="7.9" height="17.4" fill="#d2e3f6" stroke="#1a1a1a" stroke-width="0.85"/>
<path d="M47.35 643.4H55.25" stroke="#1a1a1a" stroke-width="0.9"/>
<circle cx="49.8" cy="648.6" r="1.05" fill="#111"/>
<circle cx="52.3" cy="649" r="1.05" fill="#111"/>
<path d="M63.35 605.3V611.9M63.35 629.8V637.9M61.35 605.3H65.35M61.35 637.9H65.35" stroke="#111" stroke-width="0.9" fill="none"/>
<rect x="59.4" y="611.9" width="7.9" height="17.9" fill="#f5821f" stroke="#1a1a1a" stroke-width="0.85"/>
<path d="M59.4 622.6H67.3" stroke="#1a1a1a" stroke-width="0.9"/>
<circle cx="63.35" cy="604.5" r="1.05" fill="#111"/>
<circle cx="61.85" cy="606.5" r="1.05" fill="#111"/>
<circle cx="64.85" cy="606.5" r="1.05" fill="#111"/>
<circle cx="62.35" cy="636" r="1.05" fill="#111"/>
<circle cx="64.35" cy="637" r="1.05" fill="#111"/>
<circle cx="63.35" cy="638.5" r="1.05" fill="#111"/>
<circle cx="60.85" cy="633.5" r="1.05" fill="#111"/>
<circle cx="65.85" cy="634" r="1.05" fill="#111"/>
<path d="M75.4 611V628.6M72.68 611H78.12M72.68 628.6H78.12M71.15 620.3H79.65" stroke="#111" stroke-width="0.9" fill="none"/>
<circle cx="75.4" cy="608" r="1.05" fill="#111"/>
<circle cx="74.2" cy="615" r="1.05" fill="#111"/>
<circle cx="76.6" cy="617" r="1.05" fill="#111"/>
<circle cx="74.4" cy="623" r="1.05" fill="#111"/>
<circle cx="76.4" cy="625" r="1.05" fill="#111"/>
<circle cx="75.4" cy="627" r="1.05" fill="#111"/>
<circle cx="75.4" cy="632.8" r="1.05" fill="#111"/>
<path d="M87.45 609.6V631.8M84.73 609.6H90.17M84.73 631.8H90.17M83.2 620.3H91.7" stroke="#111" stroke-width="0.9" fill="none"/>
<circle cx="88.95" cy="609.4" r="1.05" fill="#111"/>
<circle cx="85.95" cy="611" r="1.05" fill="#111"/>
<circle cx="87.45" cy="631.5" r="1.05" fill="#111"/>
<circle cx="87.45" cy="633" r="1.05" fill="#111"/>
<path d="M99.5 609.6V631.8M96.78 609.6H102.22M96.78 631.8H102.22M95.25 621H103.75" stroke="#111" stroke-width="0.9" fill="none"/>
<circle cx="99.5" cy="604.7" r="1.05" fill="#111"/>
<circle cx="99.5" cy="626.5" r="1.05" fill="#111"/>
<circle cx="98.5" cy="631.2" r="1.05" fill="#111"/>
<circle cx="100.5" cy="631.8" r="1.05" fill="#111"/>
<path d="M111.55 615.4V634M108.83 615.4H114.27M108.83 634H114.27M107.3 624.6H115.8" stroke="#111" stroke-width="0.9" fill="none"/>
<circle cx="110.55" cy="611" r="1.05" fill="#111"/>
<circle cx="112.75" cy="612" r="1.05" fill="#111"/>
<circle cx="111.55" cy="614" r="1.05" fill="#111"/>
<circle cx="110.05" cy="617" r="1.05" fill="#111"/>
<circle cx="113.05" cy="619" r="1.05" fill="#111"/>
<circle cx="111.55" cy="622" r="1.05" fill="#111"/>
<circle cx="110.35" cy="627" r="1.05" fill="#111"/>
<circle cx="112.85" cy="629" r="1.05" fill="#111"/>
<circle cx="111.55" cy="632" r="1.05" fill="#111"/>
<circle cx="110.05" cy="635" r="1.05" fill="#111"/>
<circle cx="112.85" cy="637" r="1.05" fill="#111"/>
<circle cx="111.55" cy="638.5" r="1.05" fill="#111"/>
<path d="M123.6 610.2V617.4M123.6 629V636M121.6 610.2H125.6M121.6 636H125.6" stroke="#111" stroke-width="0.9" fill="none"/>
<rect x="119.65" y="617.4" width="7.9" height="11.6" fill="#e8373c" stroke="#1a1a1a" stroke-width="0.85"/>
<path d="M119.65 623.5H127.55" stroke="#1a1a1a" stroke-width="0.9"/>
<circle cx="123.6" cy="599.5" r="1.05" fill="#111"/>
<circle cx="122.8" cy="602.5" r="1.05" fill="#111"/>
<circle cx="124.4" cy="603.5" r="1.05" fill="#111"/>
<circle cx="123.6" cy="607" r="1.05" fill="#111"/>
<circle cx="123.6" cy="609" r="1.05" fill="#111"/>
<circle cx="123.6" cy="638" r="1.05" fill="#111"/>
<circle cx="122.8" cy="640.5" r="1.05" fill="#111"/>
<circle cx="124.1" cy="644" r="1.05" fill="#111"/>
<text transform="translate(51.9 678) rotate(-45)" font-size="4.8" font-weight="bold" text-anchor="end" fill="#111">NU (non-tumor bladder)</text>
<text transform="translate(63.95 678) rotate(-45)" font-size="4.8" font-weight="bold" text-anchor="end" fill="#111">U/HYP/DYS</text>
<text transform="translate(76 678) rotate(-45)" font-size="4.8" font-weight="bold" text-anchor="end" fill="#111">U (independent tumor bladders)</text>
<text transform="translate(88.05 678) rotate(-45)" font-size="4.8" font-weight="bold" text-anchor="end" fill="#111">U (WBHM)</text>
<text transform="translate(100.1 678) rotate(-45)" font-size="4.8" font-weight="bold" text-anchor="end" fill="#111">HYP (WBHM + matched pairs)</text>
<text transform="translate(112.15 678) rotate(-45)" font-size="4.8" font-weight="bold" text-anchor="end" fill="#111">DYS (WBHM + matched pairs)</text>
<text transform="translate(124.2 678) rotate(-45)" font-size="4.8" font-weight="bold" text-anchor="end" fill="#111">CIS (WBHM + matched pairs)</text>
<text x="149.7" y="590.8" font-size="14.5" fill="#111" font-weight="bold" stroke="#111" stroke-width="0.35">F</text>
<path d="M178.8 593V663.5H267.5" stroke="#111" stroke-width="1.15" fill="none"/>
<text x="171.6" y="595.55" font-size="5.3" fill="#111" font-weight="bold" text-anchor="end" >2</text>
<text x="171.6" y="609.55" font-size="5.3" fill="#111" font-weight="bold" text-anchor="end" >1</text>
<text x="171.6" y="623.55" font-size="5.3" fill="#111" font-weight="bold" text-anchor="end" >0</text>
<text x="171.6" y="637.45" font-size="5.3" fill="#111" font-weight="bold" text-anchor="end" >-1</text>
<text x="171.6" y="651.35" font-size="5.3" fill="#111" font-weight="bold" text-anchor="end" >-2</text>
<text x="171.6" y="665.35" font-size="5.3" fill="#111" font-weight="bold" text-anchor="end" >-3</text>
<path d="M173.6 593.7H178.8M173.6 607.7H178.8M173.6 621.7H178.8M173.6 635.6H178.8M173.6 649.5H178.8M173.6 663.5H178.8M186.8 663.5V668.9M198.83 663.5V668.9M210.86 663.5V668.9M222.89 663.5V668.9M234.92 663.5V668.9M246.95 663.5V668.9M258.98 663.5V668.9" stroke="#111" stroke-width="1.0" fill="none"/>
<path d="M179.3 621.7H268.5" stroke="#111" stroke-width="1.3" stroke-dasharray="1.4 1.9" fill="none"/>
<text transform="translate(162.6 630) rotate(-90)" font-size="5.0" font-weight="bold" text-anchor="middle" fill="#111">ECM-Score (Z-Score)</text>
<text x="223" y="586.9" font-size="4.85" fill="#222" text-anchor="middle" >Kruskal-Wallis test: <tspan font-style="italic">P</tspan> &lt; 0.0001*</text>
<path d="M186.8 603V621.2M184.08 603H189.52M184.08 621.2H189.52M182.55 611.6H191.05" stroke="#111" stroke-width="0.9" fill="none"/>
<circle cx="185.6" cy="603" r="1.05" fill="#111"/>
<circle cx="188.3" cy="601.6" r="1.05" fill="#111"/>
<circle cx="186.8" cy="621" r="1.05" fill="#111"/>
<circle cx="186" cy="621.6" r="1.05" fill="#111"/>
<path d="M198.83 603.8V621.2M196.11 603.8H201.55M196.11 621.2H201.55M194.58 613H203.08" stroke="#111" stroke-width="0.9" fill="none"/>
<circle cx="198.83" cy="600.4" r="1.05" fill="#111"/>
<circle cx="198.83" cy="618" r="1.05" fill="#111"/>
<circle cx="197.83" cy="621" r="1.05" fill="#111"/>
<circle cx="199.83" cy="621.4" r="1.05" fill="#111"/>
<path d="M210.86 608.7V624.6M208.14 608.7H213.58M208.14 624.6H213.58M206.61 616.8H215.11" stroke="#111" stroke-width="0.9" fill="none"/>
<circle cx="209.36" cy="605.5" r="1.05" fill="#111"/>
<circle cx="212.36" cy="605.5" r="1.05" fill="#111"/>
<circle cx="210.86" cy="608" r="1.05" fill="#111"/>
<circle cx="209.66" cy="612" r="1.05" fill="#111"/>
<circle cx="212.06" cy="614" r="1.05" fill="#111"/>
<circle cx="210.86" cy="619" r="1.05" fill="#111"/>
<circle cx="209.36" cy="622" r="1.05" fill="#111"/>
<circle cx="212.36" cy="623" r="1.05" fill="#111"/>
<circle cx="210.86" cy="625.5" r="1.05" fill="#111"/>
<circle cx="209.86" cy="627" r="1.05" fill="#111"/>
<circle cx="211.86" cy="626.5" r="1.05" fill="#111"/>
<path d="M222.89 601.5V606.2M222.89 621.2V626.3M220.89 601.5H224.89M220.89 626.3H224.89" stroke="#111" stroke-width="0.9" fill="none"/>
<rect x="218.94" y="606.2" width="7.9" height="15" fill="#f5821f" stroke="#1a1a1a" stroke-width="0.85"/>
<path d="M218.94 616.2H226.84" stroke="#1a1a1a" stroke-width="0.9"/>
<circle cx="222.89" cy="600.6" r="1.05" fill="#111"/>
<circle cx="222.09" cy="626" r="1.05" fill="#111"/>
<circle cx="223.69" cy="627" r="1.05" fill="#111"/>
<path d="M234.92 605.3V610.2M234.92 619.1V624M232.92 605.3H236.92M232.92 624H236.92" stroke="#111" stroke-width="0.9" fill="none"/>
<rect x="230.97" y="610.2" width="7.9" height="8.9" fill="#e8373c" stroke="#1a1a1a" stroke-width="0.85"/>
<path d="M230.97 615.4H238.87" stroke="#1a1a1a" stroke-width="0.9"/>
<circle cx="234.92" cy="595.8" r="1.05" fill="#111"/>
<circle cx="235.42" cy="598.4" r="1.05" fill="#111"/>
<circle cx="234.42" cy="601.5" r="1.05" fill="#111"/>
<circle cx="234.92" cy="604" r="1.05" fill="#111"/>
<circle cx="234.92" cy="626" r="1.05" fill="#111"/>
<circle cx="234.42" cy="628.5" r="1.05" fill="#111"/>
<circle cx="235.42" cy="631" r="1.05" fill="#111"/>
<path d="M246.95 614.5V622.6M246.95 643.6V647.7M244.95 614.5H248.95M244.95 647.7H248.95" stroke="#111" stroke-width="0.9" fill="none"/>
<rect x="243" y="622.6" width="7.9" height="21" fill="#d2e3f6" stroke="#1a1a1a" stroke-width="0.85"/>
<path d="M243 637.6H250.9" stroke="#1a1a1a" stroke-width="0.9"/>
<circle cx="246.95" cy="647.7" r="1.05" fill="#111"/>
<path d="M258.98 621.2V624M258.98 639V643.6M256.98 621.2H260.98M256.98 643.6H260.98" stroke="#111" stroke-width="0.9" fill="none"/>
<rect x="255.03" y="624" width="7.9" height="15" fill="#3f8fe4" stroke="#1a1a1a" stroke-width="0.85"/>
<path d="M255.03 632.7H262.93" stroke="#1a1a1a" stroke-width="0.9"/>
<circle cx="258.98" cy="612.5" r="1.05" fill="#111"/>
<circle cx="258.98" cy="648.5" r="1.05" fill="#111"/>
<text transform="translate(188.3 674.6) rotate(-45)" font-size="4.9" font-weight="bold" text-anchor="end" fill="#111">U</text>
<text transform="translate(200.33 674.6) rotate(-45)" font-size="4.9" font-weight="bold" text-anchor="end" fill="#111">HYP</text>
<text transform="translate(212.36 674.6) rotate(-45)" font-size="4.9" font-weight="bold" text-anchor="end" fill="#111">DYS</text>
<text transform="translate(224.39 674.6) rotate(-45)" font-size="4.9" font-weight="bold" text-anchor="end" fill="#111">U/HYP/DYS</text>
<text transform="translate(236.42 674.6) rotate(-45)" font-size="4.9" font-weight="bold" text-anchor="end" fill="#111">CIS</text>
<text transform="translate(248.45 674.6) rotate(-45)" font-size="4.9" font-weight="bold" text-anchor="end" fill="#111">pT1</text>
<text transform="translate(260.48 674.6) rotate(-45)" font-size="4.9" font-weight="bold" text-anchor="end" fill="#111">MIBC</text>
<text x="220.4" y="698.7" font-size="4.85" fill="#222" text-anchor="middle" >* Kruskal-Wallis test U/HYP/DYS vs. CIS</text>
<text x="220.4" y="705.4" font-size="4.85" fill="#222" text-anchor="middle" >vs. pT1 vs. MIBC</text>
<text x="290.1" y="590.8" font-size="14.5" fill="#111" font-weight="bold" stroke="#111" stroke-width="0.35">G</text>
<path d="M319.1 589.3V659.5H407.5" stroke="#111" stroke-width="1.15" fill="none"/>
<text x="311.9" y="591.85" font-size="5.3" fill="#111" font-weight="bold" text-anchor="end" >2</text>
<text x="311.9" y="605.75" font-size="5.3" fill="#111" font-weight="bold" text-anchor="end" >1</text>
<text x="311.9" y="619.55" font-size="5.3" fill="#111" font-weight="bold" text-anchor="end" >0</text>
<text x="311.9" y="633.55" font-size="5.3" fill="#111" font-weight="bold" text-anchor="end" >-1</text>
<text x="311.9" y="647.45" font-size="5.3" fill="#111" font-weight="bold" text-anchor="end" >-2</text>
<text x="311.9" y="661.35" font-size="5.3" fill="#111" font-weight="bold" text-anchor="end" >-3</text>
<path d="M313.9 590H319.1M313.9 603.9H319.1M313.9 617.7H319.1M313.9 631.7H319.1M313.9 645.6H319.1M313.9 659.5H319.1M327.2 659.5V664.9M339.23 659.5V664.9M351.26 659.5V664.9M363.29 659.5V664.9M375.32 659.5V664.9M387.35 659.5V664.9M399.38 659.5V664.9" stroke="#111" stroke-width="1.0" fill="none"/>
<path d="M319.6 617.7H408.5" stroke="#111" stroke-width="1.3" stroke-dasharray="1.4 1.9" fill="none"/>
<text transform="translate(303.5 626) rotate(-90)" font-size="5.0" font-weight="bold" text-anchor="middle" fill="#111">EMT-Score (Z-Score)</text>
<text x="365.5" y="586.9" font-size="4.85" fill="#222" text-anchor="middle" >Kruskal-Wallis test: <tspan font-style="italic">P</tspan> = 0.0004*</text>
<text x="423.5" y="579.7" font-size="4.85" fill="#222" text-anchor="middle" >Sarcomatoid</text>
<text x="423.5" y="585.5" font-size="4.85" fill="#222" text-anchor="middle" >MIBC</text>
<path d="M410.8 583.6L404 590" stroke="#111" stroke-width="1.1"/>
<polygon points="400.9,592.9 402.8,587.6 406.6,591.2" fill="#111"/>
<path d="M327.2 603V620.3M324.48 603H329.92M324.48 620.3H329.92M322.95 611.6H331.45" stroke="#111" stroke-width="0.9" fill="none"/>
<circle cx="327.2" cy="601.5" r="1.05" fill="#111"/>
<circle cx="326.2" cy="607" r="1.05" fill="#111"/>
<circle cx="328.2" cy="609" r="1.05" fill="#111"/>
<circle cx="327.2" cy="615" r="1.05" fill="#111"/>
<circle cx="327.2" cy="619" r="1.05" fill="#111"/>
<circle cx="327.2" cy="626" r="1.05" fill="#111"/>
<path d="M339.23 605.9V618.3M336.51 605.9H341.95M336.51 618.3H341.95M334.98 612H343.48" stroke="#111" stroke-width="0.9" fill="none"/>
<circle cx="339.23" cy="603" r="1.05" fill="#111"/>
<circle cx="338.23" cy="609" r="1.05" fill="#111"/>
<circle cx="340.23" cy="611" r="1.05" fill="#111"/>
<circle cx="339.23" cy="616" r="1.05" fill="#111"/>
<circle cx="339.23" cy="624" r="1.05" fill="#111"/>
<path d="M351.26 609V624.6M348.54 609H353.98M348.54 624.6H353.98M347.01 618.3H355.51" stroke="#111" stroke-width="0.9" fill="none"/>
<circle cx="351.26" cy="598" r="1.05" fill="#111"/>
<circle cx="351.26" cy="604" r="1.05" fill="#111"/>
<circle cx="350.06" cy="607" r="1.05" fill="#111"/>
<circle cx="352.46" cy="608" r="1.05" fill="#111"/>
<circle cx="349.76" cy="613" r="1.05" fill="#111"/>
<circle cx="352.76" cy="614.5" r="1.05" fill="#111"/>
<circle cx="351.26" cy="616.5" r="1.05" fill="#111"/>
<circle cx="349.76" cy="618.5" r="1.05" fill="#111"/>
<circle cx="352.76" cy="619.5" r="1.05" fill="#111"/>
<circle cx="351.26" cy="621.5" r="1.05" fill="#111"/>
<circle cx="350.26" cy="623.5" r="1.05" fill="#111"/>
<circle cx="352.26" cy="625" r="1.05" fill="#111"/>
<circle cx="350.46" cy="628.5" r="1.05" fill="#111"/>
<circle cx="352.06" cy="630" r="1.05" fill="#111"/>
<path d="M363.29 602.4V607.6M363.29 619.1V626.9M361.29 602.4H365.29M361.29 626.9H365.29" stroke="#111" stroke-width="0.9" fill="none"/>
<rect x="359.34" y="607.6" width="7.9" height="11.5" fill="#f5821f" stroke="#1a1a1a" stroke-width="0.85"/>
<path d="M359.34 613.9H367.24" stroke="#1a1a1a" stroke-width="0.9"/>
<circle cx="363.29" cy="598" r="1.05" fill="#111"/>
<circle cx="362.49" cy="627.5" r="1.05" fill="#111"/>
<circle cx="364.09" cy="629.3" r="1.05" fill="#111"/>
<path d="M375.32 603.8V611M375.32 627.8V633.5M373.32 603.8H377.32M373.32 633.5H377.32" stroke="#111" stroke-width="0.9" fill="none"/>
<rect x="371.37" y="611" width="7.9" height="16.8" fill="#e8373c" stroke="#1a1a1a" stroke-width="0.85"/>
<path d="M371.37 619.7H379.27" stroke="#1a1a1a" stroke-width="0.9"/>
<circle cx="375.32" cy="598" r="1.05" fill="#111"/>
<circle cx="374.52" cy="601" r="1.05" fill="#111"/>
<circle cx="376.12" cy="602.5" r="1.05" fill="#111"/>
<circle cx="375.32" cy="637.3" r="1.05" fill="#111"/>
<circle cx="375.32" cy="639.8" r="1.05" fill="#111"/>
<circle cx="375.32" cy="642.2" r="1.05" fill="#111"/>
<circle cx="375.32" cy="644.2" r="1.05" fill="#111"/>
<path d="M387.35 618.3V624.6M387.35 639.9V644.2M385.35 618.3H389.35M385.35 644.2H389.35" stroke="#111" stroke-width="0.9" fill="none"/>
<rect x="383.4" y="624.6" width="7.9" height="15.3" fill="#d2e3f6" stroke="#1a1a1a" stroke-width="0.85"/>
<path d="M383.4 631.2H391.3" stroke="#1a1a1a" stroke-width="0.9"/>
<circle cx="387.35" cy="618.3" r="1.05" fill="#111"/>
<path d="M399.38 598V602.4M399.38 622.6V632.7M397.38 598H401.38M397.38 632.7H401.38" stroke="#111" stroke-width="0.9" fill="none"/>
<rect x="395.43" y="602.4" width="7.9" height="20.2" fill="#3f8fe4" stroke="#1a1a1a" stroke-width="0.85"/>
<path d="M395.43 612.5H403.33" stroke="#1a1a1a" stroke-width="0.9"/>
<circle cx="399.38" cy="593.7" r="1.05" fill="#111"/>
<circle cx="399.38" cy="596.5" r="1.05" fill="#111"/>
<circle cx="399.38" cy="632.7" r="1.05" fill="#111"/>
<circle cx="399.38" cy="639" r="1.05" fill="#111"/>
<text transform="translate(328.8 671) rotate(-45)" font-size="4.9" font-weight="bold" text-anchor="end" fill="#111">U</text>
<text transform="translate(340.83 671) rotate(-45)" font-size="4.9" font-weight="bold" text-anchor="end" fill="#111">HYP</text>
<text transform="translate(352.86 671) rotate(-45)" font-size="4.9" font-weight="bold" text-anchor="end" fill="#111">DYS</text>
<text transform="translate(364.89 671) rotate(-45)" font-size="4.9" font-weight="bold" text-anchor="end" fill="#111">U/HYP/DYS</text>
<text transform="translate(376.92 671) rotate(-45)" font-size="4.9" font-weight="bold" text-anchor="end" fill="#111">CIS</text>
<text transform="translate(388.95 671) rotate(-45)" font-size="4.9" font-weight="bold" text-anchor="end" fill="#111">pT1</text>
<text transform="translate(400.98 671) rotate(-45)" font-size="4.9" font-weight="bold" text-anchor="end" fill="#111">MIBC</text>
<text x="360.4" y="698.7" font-size="4.85" fill="#222" text-anchor="middle" >* Kruskal-Wallis test U/HYP/DYS vs. CIS</text>
<text x="360.4" y="705.4" font-size="4.85" fill="#222" text-anchor="middle" >vs. pT1 vs. MIBC</text>
</svg>
</body></html>
